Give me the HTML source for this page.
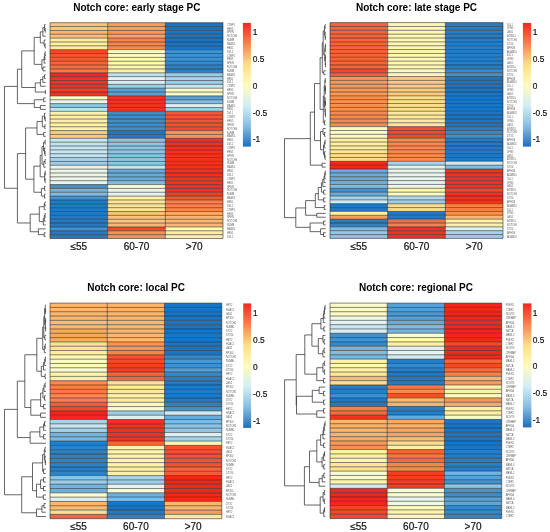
<!DOCTYPE html><html><head><meta charset="utf-8"><style>html,body{margin:0;padding:0;background:#fff}svg{display:block;will-change:transform}</style></head><body>
<svg width="550" height="532" viewBox="0 0 550 532" font-family="&quot;Liberation Sans&quot;, sans-serif">
<rect width="550" height="532" fill="#fff"/>
<defs><linearGradient id="cb" x1="0" y1="0" x2="0" y2="1"><stop offset="0.0000" stop-color="#f02820"/><stop offset="0.1667" stop-color="#fa8248"/><stop offset="0.3333" stop-color="#ffde82"/><stop offset="0.5000" stop-color="#fffcbc"/><stop offset="0.6667" stop-color="#d4eef6"/><stop offset="0.8333" stop-color="#84bee2"/><stop offset="1.0000" stop-color="#1e6ebe"/></linearGradient></defs>
<rect x="50.00" y="22.70" width="57.67" height="3.85" fill="#fcc476"/>
<rect x="107.67" y="22.70" width="57.67" height="3.85" fill="#fa9d5b"/>
<rect x="165.33" y="22.70" width="57.67" height="3.85" fill="#1976c6"/>
<rect x="50.00" y="26.55" width="57.67" height="3.85" fill="#fdcb7d"/>
<rect x="107.67" y="26.55" width="57.67" height="3.85" fill="#faa25e"/>
<rect x="165.33" y="26.55" width="57.67" height="3.85" fill="#1976c6"/>
<rect x="50.00" y="30.41" width="57.67" height="3.85" fill="#fbb76d"/>
<rect x="107.67" y="30.41" width="57.67" height="3.85" fill="#fa9857"/>
<rect x="165.33" y="30.41" width="57.67" height="3.85" fill="#1976c6"/>
<rect x="50.00" y="34.26" width="57.67" height="3.85" fill="#fcbf72"/>
<rect x="107.67" y="34.26" width="57.67" height="3.85" fill="#faa25e"/>
<rect x="165.33" y="34.26" width="57.67" height="3.85" fill="#1976c6"/>
<rect x="50.00" y="38.11" width="57.67" height="3.85" fill="#ffee9e"/>
<rect x="107.67" y="38.11" width="57.67" height="3.85" fill="#fa8448"/>
<rect x="165.33" y="38.11" width="57.67" height="3.85" fill="#1976c6"/>
<rect x="50.00" y="41.97" width="57.67" height="3.85" fill="#ffee9e"/>
<rect x="107.67" y="41.97" width="57.67" height="3.85" fill="#fa8448"/>
<rect x="165.33" y="41.97" width="57.67" height="3.85" fill="#1976c6"/>
<rect x="50.00" y="45.82" width="57.67" height="3.85" fill="#ffee9e"/>
<rect x="107.67" y="45.82" width="57.67" height="3.85" fill="#fa894c"/>
<rect x="165.33" y="45.82" width="57.67" height="3.85" fill="#1976c6"/>
<rect x="50.00" y="49.67" width="57.67" height="3.85" fill="#f5482a"/>
<rect x="107.67" y="49.67" width="57.67" height="3.85" fill="#fafac8"/>
<rect x="165.33" y="49.67" width="57.67" height="3.85" fill="#4191cd"/>
<rect x="50.00" y="53.53" width="57.67" height="3.85" fill="#f55632"/>
<rect x="107.67" y="53.53" width="57.67" height="3.85" fill="#fafac8"/>
<rect x="165.33" y="53.53" width="57.67" height="3.85" fill="#4191cd"/>
<rect x="50.00" y="57.38" width="57.67" height="3.85" fill="#f55c35"/>
<rect x="107.67" y="57.38" width="57.67" height="3.85" fill="#fffab6"/>
<rect x="165.33" y="57.38" width="57.67" height="3.85" fill="#4191cd"/>
<rect x="50.00" y="61.24" width="57.67" height="3.85" fill="#f5643a"/>
<rect x="107.67" y="61.24" width="57.67" height="3.85" fill="#fffab6"/>
<rect x="165.33" y="61.24" width="57.67" height="3.85" fill="#3789c9"/>
<rect x="50.00" y="65.09" width="57.67" height="3.85" fill="#f76f3f"/>
<rect x="107.67" y="65.09" width="57.67" height="3.85" fill="#fff6ae"/>
<rect x="165.33" y="65.09" width="57.67" height="3.85" fill="#2d82c6"/>
<rect x="50.00" y="68.94" width="57.67" height="3.85" fill="#f87943"/>
<rect x="107.67" y="68.94" width="57.67" height="3.85" fill="#fff2a6"/>
<rect x="165.33" y="68.94" width="57.67" height="3.85" fill="#2d82c6"/>
<rect x="50.00" y="72.80" width="57.67" height="3.85" fill="#f2261c"/>
<rect x="107.67" y="72.80" width="57.67" height="3.85" fill="#bde0f0"/>
<rect x="165.33" y="72.80" width="57.67" height="3.85" fill="#9bcde8"/>
<rect x="50.00" y="76.65" width="57.67" height="3.85" fill="#f33121"/>
<rect x="107.67" y="76.65" width="57.67" height="3.85" fill="#e4f2f2"/>
<rect x="165.33" y="76.65" width="57.67" height="3.85" fill="#a6d3ea"/>
<rect x="50.00" y="80.50" width="57.67" height="3.85" fill="#f33121"/>
<rect x="107.67" y="80.50" width="57.67" height="3.85" fill="#d5ecf2"/>
<rect x="165.33" y="80.50" width="57.67" height="3.85" fill="#9bcde8"/>
<rect x="50.00" y="84.36" width="57.67" height="3.85" fill="#f33121"/>
<rect x="107.67" y="84.36" width="57.67" height="3.85" fill="#9bcde8"/>
<rect x="165.33" y="84.36" width="57.67" height="3.85" fill="#c8e6f2"/>
<rect x="50.00" y="88.21" width="57.67" height="3.85" fill="#f43d25"/>
<rect x="107.67" y="88.21" width="57.67" height="3.85" fill="#58a1d5"/>
<rect x="165.33" y="88.21" width="57.67" height="3.85" fill="#fafac8"/>
<rect x="50.00" y="92.06" width="57.67" height="3.85" fill="#f33121"/>
<rect x="107.67" y="92.06" width="57.67" height="3.85" fill="#58a1d5"/>
<rect x="165.33" y="92.06" width="57.67" height="3.85" fill="#fafac8"/>
<rect x="50.00" y="95.92" width="57.67" height="3.85" fill="#fdfabd"/>
<rect x="107.67" y="95.92" width="57.67" height="3.85" fill="#f33121"/>
<rect x="165.33" y="95.92" width="57.67" height="3.85" fill="#58a1d5"/>
<rect x="50.00" y="99.77" width="57.67" height="3.85" fill="#edf6e6"/>
<rect x="107.67" y="99.77" width="57.67" height="3.85" fill="#f33121"/>
<rect x="165.33" y="99.77" width="57.67" height="3.85" fill="#80bce1"/>
<rect x="50.00" y="103.62" width="57.67" height="3.85" fill="#8ec5e5"/>
<rect x="107.67" y="103.62" width="57.67" height="3.85" fill="#f33121"/>
<rect x="165.33" y="103.62" width="57.67" height="3.85" fill="#e0f0f2"/>
<rect x="50.00" y="107.48" width="57.67" height="3.85" fill="#c1e2f0"/>
<rect x="107.67" y="107.48" width="57.67" height="3.85" fill="#f33121"/>
<rect x="165.33" y="107.48" width="57.67" height="3.85" fill="#9bcde8"/>
<rect x="50.00" y="111.33" width="57.67" height="3.85" fill="#fff2a6"/>
<rect x="107.67" y="111.33" width="57.67" height="3.85" fill="#3d8ecb"/>
<rect x="165.33" y="111.33" width="57.67" height="3.85" fill="#f55632"/>
<rect x="50.00" y="115.19" width="57.67" height="3.85" fill="#fff2a6"/>
<rect x="107.67" y="115.19" width="57.67" height="3.85" fill="#3d8ecb"/>
<rect x="165.33" y="115.19" width="57.67" height="3.85" fill="#f55632"/>
<rect x="50.00" y="119.04" width="57.67" height="3.85" fill="#fff0a3"/>
<rect x="107.67" y="119.04" width="57.67" height="3.85" fill="#3d8ecb"/>
<rect x="165.33" y="119.04" width="57.67" height="3.85" fill="#f55632"/>
<rect x="50.00" y="122.89" width="57.67" height="3.85" fill="#fff2a6"/>
<rect x="107.67" y="122.89" width="57.67" height="3.85" fill="#3d8ecb"/>
<rect x="165.33" y="122.89" width="57.67" height="3.85" fill="#f5502f"/>
<rect x="50.00" y="126.75" width="57.67" height="3.85" fill="#fff2a6"/>
<rect x="107.67" y="126.75" width="57.67" height="3.85" fill="#3d8ecb"/>
<rect x="165.33" y="126.75" width="57.67" height="3.85" fill="#f5482a"/>
<rect x="50.00" y="130.60" width="57.67" height="3.85" fill="#fdcb7d"/>
<rect x="107.67" y="130.60" width="57.67" height="3.85" fill="#207ac6"/>
<rect x="165.33" y="130.60" width="57.67" height="3.85" fill="#fa9655"/>
<rect x="50.00" y="134.45" width="57.67" height="3.85" fill="#fdcb7d"/>
<rect x="107.67" y="134.45" width="57.67" height="3.85" fill="#207ac6"/>
<rect x="165.33" y="134.45" width="57.67" height="3.85" fill="#fa9655"/>
<rect x="50.00" y="138.31" width="57.67" height="3.85" fill="#c8e6f2"/>
<rect x="107.67" y="138.31" width="57.67" height="3.85" fill="#8ec5e5"/>
<rect x="165.33" y="138.31" width="57.67" height="3.85" fill="#f33121"/>
<rect x="50.00" y="142.16" width="57.67" height="3.85" fill="#c1e2f0"/>
<rect x="107.67" y="142.16" width="57.67" height="3.85" fill="#8ec5e5"/>
<rect x="165.33" y="142.16" width="57.67" height="3.85" fill="#f33121"/>
<rect x="50.00" y="146.01" width="57.67" height="3.85" fill="#c8e6f2"/>
<rect x="107.67" y="146.01" width="57.67" height="3.85" fill="#8ec5e5"/>
<rect x="165.33" y="146.01" width="57.67" height="3.85" fill="#f33121"/>
<rect x="50.00" y="149.87" width="57.67" height="3.85" fill="#c8e6f2"/>
<rect x="107.67" y="149.87" width="57.67" height="3.85" fill="#8ec5e5"/>
<rect x="165.33" y="149.87" width="57.67" height="3.85" fill="#f33121"/>
<rect x="50.00" y="153.72" width="57.67" height="3.85" fill="#c1e2f0"/>
<rect x="107.67" y="153.72" width="57.67" height="3.85" fill="#88c1e3"/>
<rect x="165.33" y="153.72" width="57.67" height="3.85" fill="#f33121"/>
<rect x="50.00" y="157.57" width="57.67" height="3.85" fill="#a6d3ea"/>
<rect x="107.67" y="157.57" width="57.67" height="3.85" fill="#8ec5e5"/>
<rect x="165.33" y="157.57" width="57.67" height="3.85" fill="#f33121"/>
<rect x="50.00" y="161.43" width="57.67" height="3.85" fill="#9bcde8"/>
<rect x="107.67" y="161.43" width="57.67" height="3.85" fill="#8ec5e5"/>
<rect x="165.33" y="161.43" width="57.67" height="3.85" fill="#f33121"/>
<rect x="50.00" y="165.28" width="57.67" height="3.85" fill="#e8f4ed"/>
<rect x="107.67" y="165.28" width="57.67" height="3.85" fill="#c8e6f2"/>
<rect x="165.33" y="165.28" width="57.67" height="3.85" fill="#f33121"/>
<rect x="50.00" y="169.14" width="57.67" height="3.85" fill="#edf6e6"/>
<rect x="107.67" y="169.14" width="57.67" height="3.85" fill="#66abd9"/>
<rect x="165.33" y="169.14" width="57.67" height="3.85" fill="#f33121"/>
<rect x="50.00" y="172.99" width="57.67" height="3.85" fill="#edf6e6"/>
<rect x="107.67" y="172.99" width="57.67" height="3.85" fill="#66abd9"/>
<rect x="165.33" y="172.99" width="57.67" height="3.85" fill="#f33121"/>
<rect x="50.00" y="176.84" width="57.67" height="3.85" fill="#edf6e6"/>
<rect x="107.67" y="176.84" width="57.67" height="3.85" fill="#66abd9"/>
<rect x="165.33" y="176.84" width="57.67" height="3.85" fill="#f33121"/>
<rect x="50.00" y="180.70" width="57.67" height="3.85" fill="#e8f4ed"/>
<rect x="107.67" y="180.70" width="57.67" height="3.85" fill="#80bce1"/>
<rect x="165.33" y="180.70" width="57.67" height="3.85" fill="#f33121"/>
<rect x="50.00" y="184.55" width="57.67" height="3.85" fill="#4191cd"/>
<rect x="107.67" y="184.55" width="57.67" height="3.85" fill="#f6fbda"/>
<rect x="165.33" y="184.55" width="57.67" height="3.85" fill="#f33121"/>
<rect x="50.00" y="188.40" width="57.67" height="3.85" fill="#73b4de"/>
<rect x="107.67" y="188.40" width="57.67" height="3.85" fill="#edf6e6"/>
<rect x="165.33" y="188.40" width="57.67" height="3.85" fill="#f33121"/>
<rect x="50.00" y="192.26" width="57.67" height="3.85" fill="#80bce1"/>
<rect x="107.67" y="192.26" width="57.67" height="3.85" fill="#e4f2f2"/>
<rect x="165.33" y="192.26" width="57.67" height="3.85" fill="#f43d25"/>
<rect x="50.00" y="196.11" width="57.67" height="3.85" fill="#4191cd"/>
<rect x="107.67" y="196.11" width="57.67" height="3.85" fill="#fff2a6"/>
<rect x="165.33" y="196.11" width="57.67" height="3.85" fill="#f55632"/>
<rect x="50.00" y="199.96" width="57.67" height="3.85" fill="#207ac6"/>
<rect x="107.67" y="199.96" width="57.67" height="3.85" fill="#ffe596"/>
<rect x="165.33" y="199.96" width="57.67" height="3.85" fill="#fa8448"/>
<rect x="50.00" y="203.82" width="57.67" height="3.85" fill="#207ac6"/>
<rect x="107.67" y="203.82" width="57.67" height="3.85" fill="#ffe596"/>
<rect x="165.33" y="203.82" width="57.67" height="3.85" fill="#fa8448"/>
<rect x="50.00" y="207.67" width="57.67" height="3.85" fill="#207ac6"/>
<rect x="107.67" y="207.67" width="57.67" height="3.85" fill="#ffe596"/>
<rect x="165.33" y="207.67" width="57.67" height="3.85" fill="#fa8448"/>
<rect x="50.00" y="211.53" width="57.67" height="3.85" fill="#207ac6"/>
<rect x="107.67" y="211.53" width="57.67" height="3.85" fill="#fcc476"/>
<rect x="165.33" y="211.53" width="57.67" height="3.85" fill="#faaa64"/>
<rect x="50.00" y="215.38" width="57.67" height="3.85" fill="#207ac6"/>
<rect x="107.67" y="215.38" width="57.67" height="3.85" fill="#fcc476"/>
<rect x="165.33" y="215.38" width="57.67" height="3.85" fill="#fbb76d"/>
<rect x="50.00" y="219.23" width="57.67" height="3.85" fill="#207ac6"/>
<rect x="107.67" y="219.23" width="57.67" height="3.85" fill="#fcc476"/>
<rect x="165.33" y="219.23" width="57.67" height="3.85" fill="#fbb76d"/>
<rect x="50.00" y="223.09" width="57.67" height="3.85" fill="#207ac6"/>
<rect x="107.67" y="223.09" width="57.67" height="3.85" fill="#fbb76d"/>
<rect x="165.33" y="223.09" width="57.67" height="3.85" fill="#fbb76d"/>
<rect x="50.00" y="226.94" width="57.67" height="3.85" fill="#4191cd"/>
<rect x="107.67" y="226.94" width="57.67" height="3.85" fill="#f5482a"/>
<rect x="165.33" y="226.94" width="57.67" height="3.85" fill="#fffab6"/>
<rect x="50.00" y="230.79" width="57.67" height="3.85" fill="#207ac6"/>
<rect x="107.67" y="230.79" width="57.67" height="3.85" fill="#fa9151"/>
<rect x="165.33" y="230.79" width="57.67" height="3.85" fill="#ffee9e"/>
<rect x="50.00" y="234.65" width="57.67" height="3.85" fill="#207ac6"/>
<rect x="107.67" y="234.65" width="57.67" height="3.85" fill="#fa9151"/>
<rect x="165.33" y="234.65" width="57.67" height="3.85" fill="#ffee9e"/>
<path d="M50.00 22.70H223.00M50.00 26.55H223.00M50.00 30.41H223.00M50.00 34.26H223.00M50.00 38.11H223.00M50.00 41.97H223.00M50.00 45.82H223.00M50.00 49.67H223.00M50.00 53.53H223.00M50.00 57.38H223.00M50.00 61.24H223.00M50.00 65.09H223.00M50.00 68.94H223.00M50.00 72.80H223.00M50.00 76.65H223.00M50.00 80.50H223.00M50.00 84.36H223.00M50.00 88.21H223.00M50.00 92.06H223.00M50.00 95.92H223.00M50.00 99.77H223.00M50.00 103.62H223.00M50.00 107.48H223.00M50.00 111.33H223.00M50.00 115.19H223.00M50.00 119.04H223.00M50.00 122.89H223.00M50.00 126.75H223.00M50.00 130.60H223.00M50.00 134.45H223.00M50.00 138.31H223.00M50.00 142.16H223.00M50.00 146.01H223.00M50.00 149.87H223.00M50.00 153.72H223.00M50.00 157.57H223.00M50.00 161.43H223.00M50.00 165.28H223.00M50.00 169.14H223.00M50.00 172.99H223.00M50.00 176.84H223.00M50.00 180.70H223.00M50.00 184.55H223.00M50.00 188.40H223.00M50.00 192.26H223.00M50.00 196.11H223.00M50.00 199.96H223.00M50.00 203.82H223.00M50.00 207.67H223.00M50.00 211.53H223.00M50.00 215.38H223.00M50.00 219.23H223.00M50.00 223.09H223.00M50.00 226.94H223.00M50.00 230.79H223.00M50.00 234.65H223.00M50.00 238.50H223.00M50.00 22.70V238.50M107.67 22.70V238.50M165.33 22.70V238.50M223.00 22.70V238.50" stroke="#1e1e1e" stroke-opacity="0.6" stroke-width="0.90" fill="none"/>
<text transform="translate(136.8 10.5)" font-size="10" font-weight="bold" text-anchor="middle" fill="#000">Notch core: early stage PC</text>
<text transform="translate(78.8 249.7)" font-size="10" text-anchor="middle" fill="#111" stroke="#111" stroke-width="0.2">&#8804;55</text>
<text transform="translate(136.5 249.7)" font-size="10" text-anchor="middle" fill="#111" stroke="#111" stroke-width="0.2">60-70</text>
<text transform="translate(194.2 249.7)" font-size="10" text-anchor="middle" fill="#111" stroke="#111" stroke-width="0.2">&gt;70</text>
<g font-size="10" fill="#5e5e5e"><text transform="translate(226.9 25.68) scale(0.25 0.27)">CTBP1</text><text transform="translate(226.9 29.53) scale(0.25 0.27)">HES5</text><text transform="translate(226.9 33.38) scale(0.25 0.27)">SPEN</text><text transform="translate(226.9 37.24) scale(0.25 0.27)">NOTCH4</text><text transform="translate(226.9 41.09) scale(0.25 0.27)">NUMB</text><text transform="translate(226.9 44.94) scale(0.25 0.27)">MAML1</text><text transform="translate(226.9 48.80) scale(0.25 0.27)">HES1</text><text transform="translate(226.9 52.65) scale(0.25 0.27)">DVL1</text><text transform="translate(226.9 56.51) scale(0.25 0.27)">CTBP1</text><text transform="translate(226.9 60.36) scale(0.25 0.27)">HES5</text><text transform="translate(226.9 64.21) scale(0.25 0.27)">SPEN</text><text transform="translate(226.9 68.07) scale(0.25 0.27)">NOTCH4</text><text transform="translate(226.9 71.92) scale(0.25 0.27)">NUMB</text><text transform="translate(226.9 75.77) scale(0.25 0.27)">MAML1</text><text transform="translate(226.9 79.63) scale(0.25 0.27)">HES1</text><text transform="translate(226.9 83.48) scale(0.25 0.27)">DVL1</text><text transform="translate(226.9 87.33) scale(0.25 0.27)">CTBP1</text><text transform="translate(226.9 91.19) scale(0.25 0.27)">HES5</text><text transform="translate(226.9 95.04) scale(0.25 0.27)">SPEN</text><text transform="translate(226.9 98.89) scale(0.25 0.27)">NOTCH4</text><text transform="translate(226.9 102.75) scale(0.25 0.27)">NUMB</text><text transform="translate(226.9 106.60) scale(0.25 0.27)">MAML1</text><text transform="translate(226.9 110.46) scale(0.25 0.27)">HES1</text><text transform="translate(226.9 114.31) scale(0.25 0.27)">DVL1</text><text transform="translate(226.9 118.16) scale(0.25 0.27)">CTBP1</text><text transform="translate(226.9 122.02) scale(0.25 0.27)">HES5</text><text transform="translate(226.9 125.87) scale(0.25 0.27)">SPEN</text><text transform="translate(226.9 129.72) scale(0.25 0.27)">NOTCH4</text><text transform="translate(226.9 133.58) scale(0.25 0.27)">NUMB</text><text transform="translate(226.9 137.43) scale(0.25 0.27)">MAML1</text><text transform="translate(226.9 141.28) scale(0.25 0.27)">HES1</text><text transform="translate(226.9 145.14) scale(0.25 0.27)">DVL1</text><text transform="translate(226.9 148.99) scale(0.25 0.27)">CTBP1</text><text transform="translate(226.9 152.84) scale(0.25 0.27)">HES5</text><text transform="translate(226.9 156.70) scale(0.25 0.27)">SPEN</text><text transform="translate(226.9 160.55) scale(0.25 0.27)">NOTCH4</text><text transform="translate(226.9 164.41) scale(0.25 0.27)">NUMB</text><text transform="translate(226.9 168.26) scale(0.25 0.27)">MAML1</text><text transform="translate(226.9 172.11) scale(0.25 0.27)">HES1</text><text transform="translate(226.9 175.97) scale(0.25 0.27)">DVL1</text><text transform="translate(226.9 179.82) scale(0.25 0.27)">CTBP1</text><text transform="translate(226.9 183.67) scale(0.25 0.27)">HES5</text><text transform="translate(226.9 187.53) scale(0.25 0.27)">SPEN</text><text transform="translate(226.9 191.38) scale(0.25 0.27)">NOTCH4</text><text transform="translate(226.9 195.23) scale(0.25 0.27)">NUMB</text><text transform="translate(226.9 199.09) scale(0.25 0.27)">MAML1</text><text transform="translate(226.9 202.94) scale(0.25 0.27)">HES1</text><text transform="translate(226.9 206.79) scale(0.25 0.27)">DVL1</text><text transform="translate(226.9 210.65) scale(0.25 0.27)">CTBP1</text><text transform="translate(226.9 214.50) scale(0.25 0.27)">HES5</text><text transform="translate(226.9 218.36) scale(0.25 0.27)">SPEN</text><text transform="translate(226.9 222.21) scale(0.25 0.27)">NOTCH4</text><text transform="translate(226.9 226.06) scale(0.25 0.27)">NUMB</text><text transform="translate(226.9 229.92) scale(0.25 0.27)">MAML1</text><text transform="translate(226.9 233.77) scale(0.25 0.27)">HES1</text><text transform="translate(226.9 237.62) scale(0.25 0.27)">DVL1</text></g>
<rect x="242.9" y="22.9" width="8.0" height="123.7" fill="url(#cb)"/>
<text transform="translate(252.7 35.2) scale(0.95 1)" font-size="8.8" fill="#111" stroke="#111" stroke-width="0.2">1</text>
<text transform="translate(252.7 62.0) scale(0.95 1)" font-size="8.8" fill="#111" stroke="#111" stroke-width="0.2">0.5</text>
<text transform="translate(252.7 88.8) scale(0.95 1)" font-size="8.8" fill="#111" stroke="#111" stroke-width="0.2">0</text>
<text transform="translate(252.7 115.5) scale(0.95 1)" font-size="8.8" fill="#111" stroke="#111" stroke-width="0.2">-0.5</text>
<text transform="translate(252.7 142.3) scale(0.95 1)" font-size="8.8" fill="#111" stroke="#111" stroke-width="0.2">-1</text>
<path d="M4.50 86.40V188.27M4.50 86.40H17.40M4.50 188.27H17.40M17.40 69.18V103.62M17.40 69.18H21.70M17.40 103.62H34.30M21.70 50.88V87.49M21.70 50.88H34.20M21.70 87.49H35.30M34.20 37.39V64.37M34.20 37.39H40.30M34.20 64.37H41.90M40.30 31.85V42.93M40.30 31.85H42.90M40.30 42.93H44.10M42.90 27.52V36.19M42.90 27.52H44.50M42.90 36.19H45.70M44.50 24.63V30.41M44.50 24.63H45.70M44.50 30.41H45.20M45.20 28.48V32.33M45.20 28.48H45.70M45.20 32.33H45.70M44.10 40.04V45.82M44.10 40.04H45.70M44.10 45.82H45.00M45.00 43.89V47.75M45.00 43.89H45.70M45.00 47.75H45.70M41.90 59.79V68.94M41.90 59.79H44.20M41.90 68.94H43.00M44.20 56.42V63.16M44.20 56.42H44.80M44.20 63.16H45.70M44.80 53.53V59.31M44.80 53.53H45.00M44.80 59.31H45.70M45.00 51.60V55.46M45.00 51.60H45.70M45.00 55.46H45.70M43.00 67.02V70.87M43.00 67.02H45.70M43.00 70.87H45.70M35.30 82.91V92.06M35.30 82.91H40.40M35.30 92.06H45.40M40.40 79.54V86.28M40.40 79.54H42.80M40.40 86.28H45.70M42.80 76.65V82.43M42.80 76.65H44.50M42.80 82.43H45.70M44.50 74.72V78.58M44.50 74.72H45.70M44.50 78.58H45.70M45.40 90.14V93.99M45.40 90.14H45.70M45.40 93.99H45.70M34.30 99.77V107.48M34.30 99.77H43.70M34.30 107.48H40.40M43.70 97.84V101.70M43.70 97.84H45.70M43.70 101.70H45.70M40.40 105.55V109.41M40.40 105.55H45.70M40.40 109.41H45.70M17.40 153.57V222.97M17.40 153.57H25.60M17.40 222.97H30.20M25.60 127.95V179.19M25.60 127.95H37.00M25.60 179.19H33.90M37.00 121.45V134.45M37.00 121.45H42.30M37.00 134.45H43.70M42.30 116.15V126.75M42.30 116.15H44.50M42.30 126.75H44.80M44.50 113.26V119.04M44.50 113.26H45.70M44.50 119.04H45.20M45.20 117.11V120.97M45.20 117.11H45.70M45.20 120.97H45.70M44.80 124.82V128.67M44.80 124.82H45.70M44.80 128.67H45.70M43.70 132.53V136.38M43.70 132.53H45.70M43.70 136.38H45.70M33.90 166.13V192.26M33.90 166.13H40.20M33.90 192.26H41.40M40.20 155.41V176.84M40.20 155.41H42.00M40.20 176.84H44.70M42.00 146.50V164.32M42.00 146.50H43.50M42.00 164.32H43.80M43.50 142.16V150.83M43.50 142.16H45.00M43.50 150.83H44.50M45.00 140.23V144.09M45.00 140.23H45.70M45.00 144.09H45.70M44.50 147.94V153.72M44.50 147.94H45.70M44.50 153.72H45.00M45.00 151.79V155.65M45.00 151.79H45.70M45.00 155.65H45.70M43.80 161.43V167.21M43.80 161.43H45.00M43.80 167.21H45.70M45.00 159.50V163.36M45.00 159.50H45.70M45.00 163.36H45.70M44.70 172.99V180.70M44.70 172.99H45.20M44.70 180.70H45.00M45.20 171.06V174.92M45.20 171.06H45.70M45.20 174.92H45.70M45.00 178.77V182.62M45.00 178.77H45.70M45.00 182.62H45.70M41.40 188.40V196.11M41.40 188.40H44.50M41.40 196.11H44.50M44.50 186.48V190.33M44.50 186.48H45.70M44.50 190.33H45.70M44.50 194.18V198.04M44.50 194.18H45.70M44.50 198.04H45.70M30.20 214.17V231.76M30.20 214.17H39.30M30.20 231.76H38.40M39.30 206.71V221.64M39.30 206.71H44.20M39.30 221.64H43.30M44.20 203.82V209.60M44.20 203.82H44.90M44.20 209.60H45.70M44.90 201.89V205.74M44.90 201.89H45.70M44.90 205.74H45.70M43.30 218.27V225.01M43.30 218.27H44.30M43.30 225.01H45.70M44.30 215.38V221.16M44.30 215.38H45.00M44.30 221.16H45.70M45.00 213.45V217.31M45.00 213.45H45.70M45.00 217.31H45.70M38.40 228.87V234.65M38.40 228.87H45.70M38.40 234.65H44.20M44.20 232.72V236.57M44.20 232.72H45.70M44.20 236.57H45.70" stroke="#333" stroke-width="0.75" fill="none"/>
<rect x="330.00" y="22.60" width="57.67" height="3.85" fill="#f5643a"/>
<rect x="387.67" y="22.60" width="57.67" height="3.85" fill="#fff8b3"/>
<rect x="445.33" y="22.60" width="57.67" height="3.85" fill="#267ec6"/>
<rect x="330.00" y="26.45" width="57.67" height="3.85" fill="#f5643a"/>
<rect x="387.67" y="26.45" width="57.67" height="3.85" fill="#fff8b3"/>
<rect x="445.33" y="26.45" width="57.67" height="3.85" fill="#267ec6"/>
<rect x="330.00" y="30.31" width="57.67" height="3.85" fill="#f5643a"/>
<rect x="387.67" y="30.31" width="57.67" height="3.85" fill="#fff8b3"/>
<rect x="445.33" y="30.31" width="57.67" height="3.85" fill="#267ec6"/>
<rect x="330.00" y="34.16" width="57.67" height="3.85" fill="#f5643a"/>
<rect x="387.67" y="34.16" width="57.67" height="3.85" fill="#fff8b3"/>
<rect x="445.33" y="34.16" width="57.67" height="3.85" fill="#267ec6"/>
<rect x="330.00" y="38.01" width="57.67" height="3.85" fill="#f5643a"/>
<rect x="387.67" y="38.01" width="57.67" height="3.85" fill="#fff8b3"/>
<rect x="445.33" y="38.01" width="57.67" height="3.85" fill="#267ec6"/>
<rect x="330.00" y="41.87" width="57.67" height="3.85" fill="#f5643a"/>
<rect x="387.67" y="41.87" width="57.67" height="3.85" fill="#fff8b3"/>
<rect x="445.33" y="41.87" width="57.67" height="3.85" fill="#267ec6"/>
<rect x="330.00" y="45.72" width="57.67" height="3.85" fill="#f5643a"/>
<rect x="387.67" y="45.72" width="57.67" height="3.85" fill="#fff8b3"/>
<rect x="445.33" y="45.72" width="57.67" height="3.85" fill="#267ec6"/>
<rect x="330.00" y="49.58" width="57.67" height="3.85" fill="#f5643a"/>
<rect x="387.67" y="49.58" width="57.67" height="3.85" fill="#fff8b3"/>
<rect x="445.33" y="49.58" width="57.67" height="3.85" fill="#267ec6"/>
<rect x="330.00" y="53.43" width="57.67" height="3.85" fill="#f5643a"/>
<rect x="387.67" y="53.43" width="57.67" height="3.85" fill="#fff8b3"/>
<rect x="445.33" y="53.43" width="57.67" height="3.85" fill="#267ec6"/>
<rect x="330.00" y="57.28" width="57.67" height="3.85" fill="#f5643a"/>
<rect x="387.67" y="57.28" width="57.67" height="3.85" fill="#fff8b3"/>
<rect x="445.33" y="57.28" width="57.67" height="3.85" fill="#267ec6"/>
<rect x="330.00" y="61.14" width="57.67" height="3.85" fill="#f5643a"/>
<rect x="387.67" y="61.14" width="57.67" height="3.85" fill="#fff8b3"/>
<rect x="445.33" y="61.14" width="57.67" height="3.85" fill="#267ec6"/>
<rect x="330.00" y="64.99" width="57.67" height="3.85" fill="#f5643a"/>
<rect x="387.67" y="64.99" width="57.67" height="3.85" fill="#fff8b3"/>
<rect x="445.33" y="64.99" width="57.67" height="3.85" fill="#267ec6"/>
<rect x="330.00" y="68.84" width="57.67" height="3.85" fill="#f5482a"/>
<rect x="387.67" y="68.84" width="57.67" height="3.85" fill="#fdfabd"/>
<rect x="445.33" y="68.84" width="57.67" height="3.85" fill="#3789c9"/>
<rect x="330.00" y="72.70" width="57.67" height="3.85" fill="#f55c35"/>
<rect x="387.67" y="72.70" width="57.67" height="3.85" fill="#fffab6"/>
<rect x="445.33" y="72.70" width="57.67" height="3.85" fill="#4191cd"/>
<rect x="330.00" y="76.55" width="57.67" height="3.85" fill="#fa9857"/>
<rect x="387.67" y="76.55" width="57.67" height="3.85" fill="#fdcb7d"/>
<rect x="445.33" y="76.55" width="57.67" height="3.85" fill="#1976c6"/>
<rect x="330.00" y="80.40" width="57.67" height="3.85" fill="#fa9857"/>
<rect x="387.67" y="80.40" width="57.67" height="3.85" fill="#fdcb7d"/>
<rect x="445.33" y="80.40" width="57.67" height="3.85" fill="#1976c6"/>
<rect x="330.00" y="84.26" width="57.67" height="3.85" fill="#fa9857"/>
<rect x="387.67" y="84.26" width="57.67" height="3.85" fill="#fdcb7d"/>
<rect x="445.33" y="84.26" width="57.67" height="3.85" fill="#1976c6"/>
<rect x="330.00" y="88.11" width="57.67" height="3.85" fill="#fa9857"/>
<rect x="387.67" y="88.11" width="57.67" height="3.85" fill="#fdcb7d"/>
<rect x="445.33" y="88.11" width="57.67" height="3.85" fill="#1976c6"/>
<rect x="330.00" y="91.96" width="57.67" height="3.85" fill="#fa9857"/>
<rect x="387.67" y="91.96" width="57.67" height="3.85" fill="#fdcb7d"/>
<rect x="445.33" y="91.96" width="57.67" height="3.85" fill="#1976c6"/>
<rect x="330.00" y="95.82" width="57.67" height="3.85" fill="#fa9151"/>
<rect x="387.67" y="95.82" width="57.67" height="3.85" fill="#ffde90"/>
<rect x="445.33" y="95.82" width="57.67" height="3.85" fill="#1976c6"/>
<rect x="330.00" y="99.67" width="57.67" height="3.85" fill="#fa9151"/>
<rect x="387.67" y="99.67" width="57.67" height="3.85" fill="#ffde90"/>
<rect x="445.33" y="99.67" width="57.67" height="3.85" fill="#1976c6"/>
<rect x="330.00" y="103.53" width="57.67" height="3.85" fill="#fa9151"/>
<rect x="387.67" y="103.53" width="57.67" height="3.85" fill="#ffde90"/>
<rect x="445.33" y="103.53" width="57.67" height="3.85" fill="#1976c6"/>
<rect x="330.00" y="107.38" width="57.67" height="3.85" fill="#fa9151"/>
<rect x="387.67" y="107.38" width="57.67" height="3.85" fill="#ffde90"/>
<rect x="445.33" y="107.38" width="57.67" height="3.85" fill="#1976c6"/>
<rect x="330.00" y="111.23" width="57.67" height="3.85" fill="#fa894c"/>
<rect x="387.67" y="111.23" width="57.67" height="3.85" fill="#ffea9b"/>
<rect x="445.33" y="111.23" width="57.67" height="3.85" fill="#1976c6"/>
<rect x="330.00" y="115.09" width="57.67" height="3.85" fill="#fa894c"/>
<rect x="387.67" y="115.09" width="57.67" height="3.85" fill="#ffea9b"/>
<rect x="445.33" y="115.09" width="57.67" height="3.85" fill="#1976c6"/>
<rect x="330.00" y="118.94" width="57.67" height="3.85" fill="#fa894c"/>
<rect x="387.67" y="118.94" width="57.67" height="3.85" fill="#ffea9b"/>
<rect x="445.33" y="118.94" width="57.67" height="3.85" fill="#1976c6"/>
<rect x="330.00" y="122.79" width="57.67" height="3.85" fill="#fa894c"/>
<rect x="387.67" y="122.79" width="57.67" height="3.85" fill="#ffea9b"/>
<rect x="445.33" y="122.79" width="57.67" height="3.85" fill="#1976c6"/>
<rect x="330.00" y="126.65" width="57.67" height="3.85" fill="#fafac8"/>
<rect x="387.67" y="126.65" width="57.67" height="3.85" fill="#f5502f"/>
<rect x="445.33" y="126.65" width="57.67" height="3.85" fill="#267ec6"/>
<rect x="330.00" y="130.50" width="57.67" height="3.85" fill="#f9fbcf"/>
<rect x="387.67" y="130.50" width="57.67" height="3.85" fill="#f5482a"/>
<rect x="445.33" y="130.50" width="57.67" height="3.85" fill="#3789c9"/>
<rect x="330.00" y="134.35" width="57.67" height="3.85" fill="#fafac8"/>
<rect x="387.67" y="134.35" width="57.67" height="3.85" fill="#f5482a"/>
<rect x="445.33" y="134.35" width="57.67" height="3.85" fill="#4191cd"/>
<rect x="330.00" y="138.21" width="57.67" height="3.85" fill="#ffee9e"/>
<rect x="387.67" y="138.21" width="57.67" height="3.85" fill="#fa894c"/>
<rect x="445.33" y="138.21" width="57.67" height="3.85" fill="#207ac6"/>
<rect x="330.00" y="142.06" width="57.67" height="3.85" fill="#ffefa0"/>
<rect x="387.67" y="142.06" width="57.67" height="3.85" fill="#fa894c"/>
<rect x="445.33" y="142.06" width="57.67" height="3.85" fill="#207ac6"/>
<rect x="330.00" y="145.91" width="57.67" height="3.85" fill="#ffec9c"/>
<rect x="387.67" y="145.91" width="57.67" height="3.85" fill="#fa894c"/>
<rect x="445.33" y="145.91" width="57.67" height="3.85" fill="#207ac6"/>
<rect x="330.00" y="149.77" width="57.67" height="3.85" fill="#ffe596"/>
<rect x="387.67" y="149.77" width="57.67" height="3.85" fill="#fa894c"/>
<rect x="445.33" y="149.77" width="57.67" height="3.85" fill="#207ac6"/>
<rect x="330.00" y="153.62" width="57.67" height="3.85" fill="#ffda8c"/>
<rect x="387.67" y="153.62" width="57.67" height="3.85" fill="#fa894c"/>
<rect x="445.33" y="153.62" width="57.67" height="3.85" fill="#207ac6"/>
<rect x="330.00" y="157.47" width="57.67" height="3.85" fill="#ffda8c"/>
<rect x="387.67" y="157.47" width="57.67" height="3.85" fill="#fa894c"/>
<rect x="445.33" y="157.47" width="57.67" height="3.85" fill="#207ac6"/>
<rect x="330.00" y="161.33" width="57.67" height="3.85" fill="#f2261c"/>
<rect x="387.67" y="161.33" width="57.67" height="3.85" fill="#a6d3ea"/>
<rect x="445.33" y="161.33" width="57.67" height="3.85" fill="#d1eaf2"/>
<rect x="330.00" y="165.18" width="57.67" height="3.85" fill="#f2261c"/>
<rect x="387.67" y="165.18" width="57.67" height="3.85" fill="#e4f2f2"/>
<rect x="445.33" y="165.18" width="57.67" height="3.85" fill="#80bce1"/>
<rect x="330.00" y="169.04" width="57.67" height="3.85" fill="#66abd9"/>
<rect x="387.67" y="169.04" width="57.67" height="3.85" fill="#e8f4ed"/>
<rect x="445.33" y="169.04" width="57.67" height="3.85" fill="#f33121"/>
<rect x="330.00" y="172.89" width="57.67" height="3.85" fill="#66abd9"/>
<rect x="387.67" y="172.89" width="57.67" height="3.85" fill="#e8f4ed"/>
<rect x="445.33" y="172.89" width="57.67" height="3.85" fill="#f33121"/>
<rect x="330.00" y="176.74" width="57.67" height="3.85" fill="#66abd9"/>
<rect x="387.67" y="176.74" width="57.67" height="3.85" fill="#e8f4ed"/>
<rect x="445.33" y="176.74" width="57.67" height="3.85" fill="#f33121"/>
<rect x="330.00" y="180.60" width="57.67" height="3.85" fill="#6eb0dc"/>
<rect x="387.67" y="180.60" width="57.67" height="3.85" fill="#e4f2f2"/>
<rect x="445.33" y="180.60" width="57.67" height="3.85" fill="#f33121"/>
<rect x="330.00" y="184.45" width="57.67" height="3.85" fill="#80bce1"/>
<rect x="387.67" y="184.45" width="57.67" height="3.85" fill="#edf6e6"/>
<rect x="445.33" y="184.45" width="57.67" height="3.85" fill="#f33121"/>
<rect x="330.00" y="188.30" width="57.67" height="3.85" fill="#4191cd"/>
<rect x="387.67" y="188.30" width="57.67" height="3.85" fill="#fff6ae"/>
<rect x="445.33" y="188.30" width="57.67" height="3.85" fill="#f5482a"/>
<rect x="330.00" y="192.16" width="57.67" height="3.85" fill="#66abd9"/>
<rect x="387.67" y="192.16" width="57.67" height="3.85" fill="#fdfabd"/>
<rect x="445.33" y="192.16" width="57.67" height="3.85" fill="#f33121"/>
<rect x="330.00" y="196.01" width="57.67" height="3.85" fill="#a6d3ea"/>
<rect x="387.67" y="196.01" width="57.67" height="3.85" fill="#b2daed"/>
<rect x="445.33" y="196.01" width="57.67" height="3.85" fill="#f33121"/>
<rect x="330.00" y="199.86" width="57.67" height="3.85" fill="#d1eaf2"/>
<rect x="387.67" y="199.86" width="57.67" height="3.85" fill="#9bcde8"/>
<rect x="445.33" y="199.86" width="57.67" height="3.85" fill="#f33121"/>
<rect x="330.00" y="203.72" width="57.67" height="3.85" fill="#207ac6"/>
<rect x="387.67" y="203.72" width="57.67" height="3.85" fill="#ffdc8e"/>
<rect x="445.33" y="203.72" width="57.67" height="3.85" fill="#f98046"/>
<rect x="330.00" y="207.57" width="57.67" height="3.85" fill="#207ac6"/>
<rect x="387.67" y="207.57" width="57.67" height="3.85" fill="#ffdc8e"/>
<rect x="445.33" y="207.57" width="57.67" height="3.85" fill="#f98046"/>
<rect x="330.00" y="211.43" width="57.67" height="3.85" fill="#fff2a6"/>
<rect x="387.67" y="211.43" width="57.67" height="3.85" fill="#207ac6"/>
<rect x="445.33" y="211.43" width="57.67" height="3.85" fill="#fa9151"/>
<rect x="330.00" y="215.28" width="57.67" height="3.85" fill="#fa9d5b"/>
<rect x="387.67" y="215.28" width="57.67" height="3.85" fill="#207ac6"/>
<rect x="445.33" y="215.28" width="57.67" height="3.85" fill="#fbbc71"/>
<rect x="330.00" y="219.13" width="57.67" height="3.85" fill="#267ec6"/>
<rect x="387.67" y="219.13" width="57.67" height="3.85" fill="#f76f3f"/>
<rect x="445.33" y="219.13" width="57.67" height="3.85" fill="#fff2a6"/>
<rect x="330.00" y="222.99" width="57.67" height="3.85" fill="#2d82c6"/>
<rect x="387.67" y="222.99" width="57.67" height="3.85" fill="#f98046"/>
<rect x="445.33" y="222.99" width="57.67" height="3.85" fill="#fff0a3"/>
<rect x="330.00" y="226.84" width="57.67" height="3.85" fill="#80bce1"/>
<rect x="387.67" y="226.84" width="57.67" height="3.85" fill="#f33121"/>
<rect x="445.33" y="226.84" width="57.67" height="3.85" fill="#dbeef2"/>
<rect x="330.00" y="230.69" width="57.67" height="3.85" fill="#93c8e6"/>
<rect x="387.67" y="230.69" width="57.67" height="3.85" fill="#f33121"/>
<rect x="445.33" y="230.69" width="57.67" height="3.85" fill="#a6d3ea"/>
<rect x="330.00" y="234.55" width="57.67" height="3.85" fill="#8ec5e5"/>
<rect x="387.67" y="234.55" width="57.67" height="3.85" fill="#f33121"/>
<rect x="445.33" y="234.55" width="57.67" height="3.85" fill="#9bcde8"/>
<path d="M330.00 22.60H503.00M330.00 26.45H503.00M330.00 30.31H503.00M330.00 34.16H503.00M330.00 38.01H503.00M330.00 41.87H503.00M330.00 45.72H503.00M330.00 49.58H503.00M330.00 53.43H503.00M330.00 57.28H503.00M330.00 61.14H503.00M330.00 64.99H503.00M330.00 68.84H503.00M330.00 72.70H503.00M330.00 76.55H503.00M330.00 80.40H503.00M330.00 84.26H503.00M330.00 88.11H503.00M330.00 91.96H503.00M330.00 95.82H503.00M330.00 99.67H503.00M330.00 103.53H503.00M330.00 107.38H503.00M330.00 111.23H503.00M330.00 115.09H503.00M330.00 118.94H503.00M330.00 122.79H503.00M330.00 126.65H503.00M330.00 130.50H503.00M330.00 134.35H503.00M330.00 138.21H503.00M330.00 142.06H503.00M330.00 145.91H503.00M330.00 149.77H503.00M330.00 153.62H503.00M330.00 157.47H503.00M330.00 161.33H503.00M330.00 165.18H503.00M330.00 169.04H503.00M330.00 172.89H503.00M330.00 176.74H503.00M330.00 180.60H503.00M330.00 184.45H503.00M330.00 188.30H503.00M330.00 192.16H503.00M330.00 196.01H503.00M330.00 199.86H503.00M330.00 203.72H503.00M330.00 207.57H503.00M330.00 211.43H503.00M330.00 215.28H503.00M330.00 219.13H503.00M330.00 222.99H503.00M330.00 226.84H503.00M330.00 230.69H503.00M330.00 234.55H503.00M330.00 238.40H503.00M330.00 22.60V238.40M387.67 22.60V238.40M445.33 22.60V238.40M503.00 22.60V238.40" stroke="#1e1e1e" stroke-opacity="0.6" stroke-width="0.90" fill="none"/>
<text transform="translate(416.5 10.5)" font-size="10" font-weight="bold" text-anchor="middle" fill="#000">Notch core: late stage PC</text>
<text transform="translate(358.8 249.7)" font-size="10" text-anchor="middle" fill="#111" stroke="#111" stroke-width="0.2">&#8804;55</text>
<text transform="translate(416.5 249.7)" font-size="10" text-anchor="middle" fill="#111" stroke="#111" stroke-width="0.2">60-70</text>
<text transform="translate(474.2 249.7)" font-size="10" text-anchor="middle" fill="#111" stroke="#111" stroke-width="0.2">&gt;70</text>
<g font-size="10" fill="#5e5e5e"><text transform="translate(506.9 25.58) scale(0.25 0.27)">DLL1</text><text transform="translate(506.9 29.43) scale(0.25 0.27)">LFNG</text><text transform="translate(506.9 33.28) scale(0.25 0.27)">JAG1</text><text transform="translate(506.9 37.14) scale(0.25 0.27)">ATXN1L</text><text transform="translate(506.9 40.99) scale(0.25 0.27)">NOTCH1</text><text transform="translate(506.9 44.84) scale(0.25 0.27)">DTX4</text><text transform="translate(506.9 48.70) scale(0.25 0.27)">APH1B</text><text transform="translate(506.9 52.55) scale(0.25 0.27)">ADAM10</text><text transform="translate(506.9 56.41) scale(0.25 0.27)">DLL1</text><text transform="translate(506.9 60.26) scale(0.25 0.27)">LFNG</text><text transform="translate(506.9 64.11) scale(0.25 0.27)">JAG1</text><text transform="translate(506.9 67.97) scale(0.25 0.27)">ATXN1L</text><text transform="translate(506.9 71.82) scale(0.25 0.27)">NOTCH1</text><text transform="translate(506.9 75.67) scale(0.25 0.27)">DTX4</text><text transform="translate(506.9 79.53) scale(0.25 0.27)">APH1B</text><text transform="translate(506.9 83.38) scale(0.25 0.27)">ADAM10</text><text transform="translate(506.9 87.23) scale(0.25 0.27)">DLL1</text><text transform="translate(506.9 91.09) scale(0.25 0.27)">LFNG</text><text transform="translate(506.9 94.94) scale(0.25 0.27)">JAG1</text><text transform="translate(506.9 98.79) scale(0.25 0.27)">ATXN1L</text><text transform="translate(506.9 102.65) scale(0.25 0.27)">NOTCH1</text><text transform="translate(506.9 106.50) scale(0.25 0.27)">DTX4</text><text transform="translate(506.9 110.36) scale(0.25 0.27)">APH1B</text><text transform="translate(506.9 114.21) scale(0.25 0.27)">ADAM10</text><text transform="translate(506.9 118.06) scale(0.25 0.27)">DLL1</text><text transform="translate(506.9 121.92) scale(0.25 0.27)">LFNG</text><text transform="translate(506.9 125.77) scale(0.25 0.27)">JAG1</text><text transform="translate(506.9 129.62) scale(0.25 0.27)">ATXN1L</text><text transform="translate(506.9 133.48) scale(0.25 0.27)">NOTCH1</text><text transform="translate(506.9 137.33) scale(0.25 0.27)">DTX4</text><text transform="translate(506.9 141.18) scale(0.25 0.27)">APH1B</text><text transform="translate(506.9 145.04) scale(0.25 0.27)">ADAM10</text><text transform="translate(506.9 148.89) scale(0.25 0.27)">DLL1</text><text transform="translate(506.9 152.74) scale(0.25 0.27)">LFNG</text><text transform="translate(506.9 156.60) scale(0.25 0.27)">JAG1</text><text transform="translate(506.9 160.45) scale(0.25 0.27)">ATXN1L</text><text transform="translate(506.9 164.31) scale(0.25 0.27)">NOTCH1</text><text transform="translate(506.9 168.16) scale(0.25 0.27)">DTX4</text><text transform="translate(506.9 172.01) scale(0.25 0.27)">APH1B</text><text transform="translate(506.9 175.87) scale(0.25 0.27)">ADAM10</text><text transform="translate(506.9 179.72) scale(0.25 0.27)">DLL1</text><text transform="translate(506.9 183.57) scale(0.25 0.27)">LFNG</text><text transform="translate(506.9 187.43) scale(0.25 0.27)">JAG1</text><text transform="translate(506.9 191.28) scale(0.25 0.27)">ATXN1L</text><text transform="translate(506.9 195.13) scale(0.25 0.27)">NOTCH1</text><text transform="translate(506.9 198.99) scale(0.25 0.27)">DTX4</text><text transform="translate(506.9 202.84) scale(0.25 0.27)">APH1B</text><text transform="translate(506.9 206.69) scale(0.25 0.27)">ADAM10</text><text transform="translate(506.9 210.55) scale(0.25 0.27)">DLL1</text><text transform="translate(506.9 214.40) scale(0.25 0.27)">LFNG</text><text transform="translate(506.9 218.26) scale(0.25 0.27)">JAG1</text><text transform="translate(506.9 222.11) scale(0.25 0.27)">ATXN1L</text><text transform="translate(506.9 225.96) scale(0.25 0.27)">NOTCH1</text><text transform="translate(506.9 229.82) scale(0.25 0.27)">DTX4</text><text transform="translate(506.9 233.67) scale(0.25 0.27)">APH1B</text><text transform="translate(506.9 237.52) scale(0.25 0.27)">ADAM10</text></g>
<rect x="522.9" y="22.9" width="8.2" height="123.7" fill="url(#cb)"/>
<text transform="translate(532.7 35.2) scale(0.95 1)" font-size="8.8" fill="#111" stroke="#111" stroke-width="0.2">1</text>
<text transform="translate(532.7 62.0) scale(0.95 1)" font-size="8.8" fill="#111" stroke="#111" stroke-width="0.2">0.5</text>
<text transform="translate(532.7 88.8) scale(0.95 1)" font-size="8.8" fill="#111" stroke="#111" stroke-width="0.2">0</text>
<text transform="translate(532.7 115.5) scale(0.95 1)" font-size="8.8" fill="#111" stroke="#111" stroke-width="0.2">-0.5</text>
<text transform="translate(532.7 142.3) scale(0.95 1)" font-size="8.8" fill="#111" stroke="#111" stroke-width="0.2">-1</text>
<path d="M284.50 138.64V217.63M284.50 138.64H310.30M284.50 217.63H295.80M310.30 112.11V165.18M310.30 112.11H314.50M310.30 165.18H322.10M314.50 83.59V140.62M314.50 83.59H320.10M314.50 140.62H320.50M320.10 57.76V109.43M320.10 57.76H322.30M320.10 109.43H323.30M322.30 42.83V72.70M322.30 42.83H323.20M322.30 72.70H323.80M323.20 30.79V54.87M323.20 30.79H324.43M323.20 54.87H324.78M324.43 26.45V35.12M324.43 26.45H325.09M324.43 35.12H325.11M325.09 24.53V28.38M325.09 24.53H325.70M325.09 28.38H325.70M325.11 32.23V38.01M325.11 32.23H325.70M325.11 38.01H325.37M325.37 36.09V39.94M325.37 36.09H325.70M325.37 39.94H325.70M324.78 48.61V61.14M324.78 48.61H325.24M324.78 61.14H325.27M325.24 45.72V51.50M325.24 45.72H325.44M325.24 51.50H325.70M325.44 43.79V47.65M325.44 43.79H325.70M325.44 47.65H325.70M325.27 57.28V64.99M325.27 57.28H325.42M325.27 64.99H325.45M325.42 55.36V59.21M325.42 55.36H325.70M325.42 59.21H325.70M325.45 63.06V66.92M325.45 63.06H325.70M325.45 66.92H325.70M323.80 70.77V74.62M323.80 70.77H325.70M323.80 74.62H325.70M323.30 96.06V122.79M323.30 96.06H324.22M323.30 122.79H324.45M324.22 85.70V106.42M324.22 85.70H324.88M324.22 106.42H324.92M324.88 80.40V91.00M324.88 80.40H325.21M324.88 91.00H325.31M325.21 78.48V82.33M325.21 78.48H325.70M325.21 82.33H325.70M325.31 88.11V93.89M325.31 88.11H325.42M325.31 93.89H325.70M325.42 86.18V90.04M325.42 86.18H325.70M325.42 90.04H325.70M324.92 100.63V112.20M324.92 100.63H325.17M324.92 112.20H325.25M325.17 97.74V103.52M325.17 97.74H325.70M325.17 103.52H325.40M325.40 101.60V105.45M325.40 101.60H325.70M325.40 105.45H325.70M325.25 109.31V115.09M325.25 109.31H325.70M325.25 115.09H325.45M325.45 113.16V117.01M325.45 113.16H325.70M325.45 117.01H325.70M324.45 120.87V124.72M324.45 120.87H325.70M324.45 124.72H325.70M320.50 131.46V149.77M320.50 131.46H323.00M320.50 149.77H323.50M323.00 128.57V134.35M323.00 128.57H325.70M323.00 134.35H324.50M324.50 132.43V136.28M324.50 132.43H325.70M324.50 136.28H325.70M323.50 144.95V154.58M323.50 144.95H324.34M323.50 154.58H324.55M324.34 142.06V147.84M324.34 142.06H325.07M324.34 147.84H325.70M325.07 140.13V143.99M325.07 140.13H325.70M325.07 143.99H325.70M324.55 151.69V157.48M324.55 151.69H325.70M324.55 157.48H325.10M325.10 155.55V159.40M325.10 155.55H325.70M325.10 159.40H325.70M322.10 163.26V167.11M322.10 163.26H325.70M322.10 167.11H325.70M295.80 207.95V227.32M295.80 207.95H305.60M295.80 227.32H310.10M305.60 200.62V215.28M305.60 200.62H315.30M305.60 215.28H316.80M315.30 193.66V207.57M315.30 193.66H318.30M315.30 207.57H324.20M318.30 187.46V199.86M318.30 187.46H321.40M318.30 199.86H323.60M321.40 182.76V192.16M321.40 182.76H322.80M321.40 192.16H323.60M322.80 179.15V186.38M322.80 179.15H324.00M322.80 186.38H325.70M324.00 175.78V182.52M324.00 175.78H324.80M324.00 182.52H325.70M324.80 172.89V178.67M324.80 172.89H325.20M324.80 178.67H325.70M325.20 170.96V174.82M325.20 170.96H325.70M325.20 174.82H325.70M323.60 190.23V194.08M323.60 190.23H325.70M323.60 194.08H325.70M323.60 197.94V201.79M323.60 197.94H325.70M323.60 201.79H325.70M324.20 205.64V209.50M324.20 205.64H325.70M324.20 209.50H325.70M316.80 213.35V217.21M316.80 213.35H325.70M316.80 217.21H325.70M310.10 222.99V231.66M310.10 222.99H323.60M310.10 231.66H320.60M323.60 221.06V224.91M323.60 221.06H325.70M323.60 224.91H325.70M320.60 228.77V234.55M320.60 228.77H325.70M320.60 234.55H323.50M323.50 232.62V236.47M323.50 232.62H325.70M323.50 236.47H325.70" stroke="#333" stroke-width="0.75" fill="none"/>
<rect x="50.00" y="303.10" width="57.27" height="4.31" fill="#fbb76d"/>
<rect x="107.27" y="303.10" width="57.27" height="4.31" fill="#fbb76d"/>
<rect x="164.53" y="303.10" width="57.27" height="4.31" fill="#1976c6"/>
<rect x="50.00" y="307.41" width="57.27" height="4.31" fill="#fbb76d"/>
<rect x="107.27" y="307.41" width="57.27" height="4.31" fill="#fbb269"/>
<rect x="164.53" y="307.41" width="57.27" height="4.31" fill="#1976c6"/>
<rect x="50.00" y="311.72" width="57.27" height="4.31" fill="#fbb76d"/>
<rect x="107.27" y="311.72" width="57.27" height="4.31" fill="#fbb76d"/>
<rect x="164.53" y="311.72" width="57.27" height="4.31" fill="#1976c6"/>
<rect x="50.00" y="316.04" width="57.27" height="4.31" fill="#fbb76d"/>
<rect x="107.27" y="316.04" width="57.27" height="4.31" fill="#fbb76d"/>
<rect x="164.53" y="316.04" width="57.27" height="4.31" fill="#1976c6"/>
<rect x="50.00" y="320.35" width="57.27" height="4.31" fill="#fbbc71"/>
<rect x="107.27" y="320.35" width="57.27" height="4.31" fill="#fbb76d"/>
<rect x="164.53" y="320.35" width="57.27" height="4.31" fill="#1976c6"/>
<rect x="50.00" y="324.66" width="57.27" height="4.31" fill="#fbb76d"/>
<rect x="107.27" y="324.66" width="57.27" height="4.31" fill="#fbb76d"/>
<rect x="164.53" y="324.66" width="57.27" height="4.31" fill="#1976c6"/>
<rect x="50.00" y="328.97" width="57.27" height="4.31" fill="#faaa64"/>
<rect x="107.27" y="328.97" width="57.27" height="4.31" fill="#fbb76d"/>
<rect x="164.53" y="328.97" width="57.27" height="4.31" fill="#1976c6"/>
<rect x="50.00" y="333.28" width="57.27" height="4.31" fill="#faa560"/>
<rect x="107.27" y="333.28" width="57.27" height="4.31" fill="#fbb76d"/>
<rect x="164.53" y="333.28" width="57.27" height="4.31" fill="#1976c6"/>
<rect x="50.00" y="337.60" width="57.27" height="4.31" fill="#faaa64"/>
<rect x="107.27" y="337.60" width="57.27" height="4.31" fill="#fbbc71"/>
<rect x="164.53" y="337.60" width="57.27" height="4.31" fill="#1976c6"/>
<rect x="50.00" y="341.91" width="57.27" height="4.31" fill="#ffe193"/>
<rect x="107.27" y="341.91" width="57.27" height="4.31" fill="#fa9151"/>
<rect x="164.53" y="341.91" width="57.27" height="4.31" fill="#1976c6"/>
<rect x="50.00" y="346.22" width="57.27" height="4.31" fill="#ffe193"/>
<rect x="107.27" y="346.22" width="57.27" height="4.31" fill="#fa9655"/>
<rect x="164.53" y="346.22" width="57.27" height="4.31" fill="#1976c6"/>
<rect x="50.00" y="350.53" width="57.27" height="4.31" fill="#ffee9e"/>
<rect x="107.27" y="350.53" width="57.27" height="4.31" fill="#fa8448"/>
<rect x="164.53" y="350.53" width="57.27" height="4.31" fill="#1976c6"/>
<rect x="50.00" y="354.84" width="57.27" height="4.31" fill="#fff8b3"/>
<rect x="107.27" y="354.84" width="57.27" height="4.31" fill="#f5502f"/>
<rect x="164.53" y="354.84" width="57.27" height="4.31" fill="#3789c9"/>
<rect x="50.00" y="359.16" width="57.27" height="4.31" fill="#fafac8"/>
<rect x="107.27" y="359.16" width="57.27" height="4.31" fill="#f5482a"/>
<rect x="164.53" y="359.16" width="57.27" height="4.31" fill="#4b98d0"/>
<rect x="50.00" y="363.47" width="57.27" height="4.31" fill="#fdfabd"/>
<rect x="107.27" y="363.47" width="57.27" height="4.31" fill="#f43d25"/>
<rect x="164.53" y="363.47" width="57.27" height="4.31" fill="#4191cd"/>
<rect x="50.00" y="367.78" width="57.27" height="4.31" fill="#f8fbd3"/>
<rect x="107.27" y="367.78" width="57.27" height="4.31" fill="#f43d25"/>
<rect x="164.53" y="367.78" width="57.27" height="4.31" fill="#539ed3"/>
<rect x="50.00" y="372.09" width="57.27" height="4.31" fill="#fff4a9"/>
<rect x="107.27" y="372.09" width="57.27" height="4.31" fill="#f5643a"/>
<rect x="164.53" y="372.09" width="57.27" height="4.31" fill="#3789c9"/>
<rect x="50.00" y="376.40" width="57.27" height="4.31" fill="#fff0a3"/>
<rect x="107.27" y="376.40" width="57.27" height="4.31" fill="#f5643a"/>
<rect x="164.53" y="376.40" width="57.27" height="4.31" fill="#267ec6"/>
<rect x="50.00" y="380.72" width="57.27" height="4.31" fill="#fa894c"/>
<rect x="107.27" y="380.72" width="57.27" height="4.31" fill="#ffe193"/>
<rect x="164.53" y="380.72" width="57.27" height="4.31" fill="#207ac6"/>
<rect x="50.00" y="385.03" width="57.27" height="4.31" fill="#f98046"/>
<rect x="107.27" y="385.03" width="57.27" height="4.31" fill="#ffee9e"/>
<rect x="164.53" y="385.03" width="57.27" height="4.31" fill="#207ac6"/>
<rect x="50.00" y="389.34" width="57.27" height="4.31" fill="#f87943"/>
<rect x="107.27" y="389.34" width="57.27" height="4.31" fill="#ffe999"/>
<rect x="164.53" y="389.34" width="57.27" height="4.31" fill="#207ac6"/>
<rect x="50.00" y="393.65" width="57.27" height="4.31" fill="#fa894c"/>
<rect x="107.27" y="393.65" width="57.27" height="4.31" fill="#fff2a6"/>
<rect x="164.53" y="393.65" width="57.27" height="4.31" fill="#207ac6"/>
<rect x="50.00" y="397.96" width="57.27" height="4.31" fill="#f98046"/>
<rect x="107.27" y="397.96" width="57.27" height="4.31" fill="#ffee9e"/>
<rect x="164.53" y="397.96" width="57.27" height="4.31" fill="#207ac6"/>
<rect x="50.00" y="402.28" width="57.27" height="4.31" fill="#f55c35"/>
<rect x="107.27" y="402.28" width="57.27" height="4.31" fill="#fff8b3"/>
<rect x="164.53" y="402.28" width="57.27" height="4.31" fill="#2d82c6"/>
<rect x="50.00" y="406.59" width="57.27" height="4.31" fill="#f5482a"/>
<rect x="107.27" y="406.59" width="57.27" height="4.31" fill="#f9fbcf"/>
<rect x="164.53" y="406.59" width="57.27" height="4.31" fill="#4191cd"/>
<rect x="50.00" y="410.90" width="57.27" height="4.31" fill="#f2261c"/>
<rect x="107.27" y="410.90" width="57.27" height="4.31" fill="#9bcde8"/>
<rect x="164.53" y="410.90" width="57.27" height="4.31" fill="#d1eaf2"/>
<rect x="50.00" y="415.21" width="57.27" height="4.31" fill="#f2261c"/>
<rect x="107.27" y="415.21" width="57.27" height="4.31" fill="#e0f0f2"/>
<rect x="164.53" y="415.21" width="57.27" height="4.31" fill="#66abd9"/>
<rect x="50.00" y="419.52" width="57.27" height="4.31" fill="#a6d3ea"/>
<rect x="107.27" y="419.52" width="57.27" height="4.31" fill="#f33121"/>
<rect x="164.53" y="419.52" width="57.27" height="4.31" fill="#80bce1"/>
<rect x="50.00" y="423.84" width="57.27" height="4.31" fill="#c8e6f2"/>
<rect x="107.27" y="423.84" width="57.27" height="4.31" fill="#f33121"/>
<rect x="164.53" y="423.84" width="57.27" height="4.31" fill="#8ec5e5"/>
<rect x="50.00" y="428.15" width="57.27" height="4.31" fill="#a2d1ea"/>
<rect x="107.27" y="428.15" width="57.27" height="4.31" fill="#f33121"/>
<rect x="164.53" y="428.15" width="57.27" height="4.31" fill="#93c8e6"/>
<rect x="50.00" y="432.46" width="57.27" height="4.31" fill="#73b4de"/>
<rect x="107.27" y="432.46" width="57.27" height="4.31" fill="#f33121"/>
<rect x="164.53" y="432.46" width="57.27" height="4.31" fill="#dbeef2"/>
<rect x="50.00" y="436.77" width="57.27" height="4.31" fill="#78b7df"/>
<rect x="107.27" y="436.77" width="57.27" height="4.31" fill="#f33121"/>
<rect x="164.53" y="436.77" width="57.27" height="4.31" fill="#a6d3ea"/>
<rect x="50.00" y="441.08" width="57.27" height="4.31" fill="#267ec6"/>
<rect x="107.27" y="441.08" width="57.27" height="4.31" fill="#f5643a"/>
<rect x="164.53" y="441.08" width="57.27" height="4.31" fill="#fff4a9"/>
<rect x="50.00" y="445.40" width="57.27" height="4.31" fill="#2d82c6"/>
<rect x="107.27" y="445.40" width="57.27" height="4.31" fill="#fff4a9"/>
<rect x="164.53" y="445.40" width="57.27" height="4.31" fill="#f5502f"/>
<rect x="50.00" y="449.71" width="57.27" height="4.31" fill="#2d82c6"/>
<rect x="107.27" y="449.71" width="57.27" height="4.31" fill="#fff4a9"/>
<rect x="164.53" y="449.71" width="57.27" height="4.31" fill="#f5502f"/>
<rect x="50.00" y="454.02" width="57.27" height="4.31" fill="#2d82c6"/>
<rect x="107.27" y="454.02" width="57.27" height="4.31" fill="#fff4a9"/>
<rect x="164.53" y="454.02" width="57.27" height="4.31" fill="#f5502f"/>
<rect x="50.00" y="458.33" width="57.27" height="4.31" fill="#2d82c6"/>
<rect x="107.27" y="458.33" width="57.27" height="4.31" fill="#fff4a9"/>
<rect x="164.53" y="458.33" width="57.27" height="4.31" fill="#f5502f"/>
<rect x="50.00" y="462.64" width="57.27" height="4.31" fill="#2d82c6"/>
<rect x="107.27" y="462.64" width="57.27" height="4.31" fill="#fff4a9"/>
<rect x="164.53" y="462.64" width="57.27" height="4.31" fill="#f5502f"/>
<rect x="50.00" y="466.96" width="57.27" height="4.31" fill="#267ec6"/>
<rect x="107.27" y="466.96" width="57.27" height="4.31" fill="#fff0a3"/>
<rect x="164.53" y="466.96" width="57.27" height="4.31" fill="#f5643a"/>
<rect x="50.00" y="471.27" width="57.27" height="4.31" fill="#2d82c6"/>
<rect x="107.27" y="471.27" width="57.27" height="4.31" fill="#fff2a6"/>
<rect x="164.53" y="471.27" width="57.27" height="4.31" fill="#f55c35"/>
<rect x="50.00" y="475.58" width="57.27" height="4.31" fill="#8ec5e5"/>
<rect x="107.27" y="475.58" width="57.27" height="4.31" fill="#a6d3ea"/>
<rect x="164.53" y="475.58" width="57.27" height="4.31" fill="#f2261c"/>
<rect x="50.00" y="479.89" width="57.27" height="4.31" fill="#9bcde8"/>
<rect x="107.27" y="479.89" width="57.27" height="4.31" fill="#9bcde8"/>
<rect x="164.53" y="479.89" width="57.27" height="4.31" fill="#f2261c"/>
<rect x="50.00" y="484.20" width="57.27" height="4.31" fill="#73b4de"/>
<rect x="107.27" y="484.20" width="57.27" height="4.31" fill="#e4f2f2"/>
<rect x="164.53" y="484.20" width="57.27" height="4.31" fill="#f2261c"/>
<rect x="50.00" y="488.52" width="57.27" height="4.31" fill="#6eb0dc"/>
<rect x="107.27" y="488.52" width="57.27" height="4.31" fill="#f8fbd3"/>
<rect x="164.53" y="488.52" width="57.27" height="4.31" fill="#f2261c"/>
<rect x="50.00" y="492.83" width="57.27" height="4.31" fill="#f8fbd3"/>
<rect x="107.27" y="492.83" width="57.27" height="4.31" fill="#6eb0dc"/>
<rect x="164.53" y="492.83" width="57.27" height="4.31" fill="#f2261c"/>
<rect x="50.00" y="497.14" width="57.27" height="4.31" fill="#dbeef2"/>
<rect x="107.27" y="497.14" width="57.27" height="4.31" fill="#80bce1"/>
<rect x="164.53" y="497.14" width="57.27" height="4.31" fill="#f2261c"/>
<rect x="50.00" y="501.45" width="57.27" height="4.31" fill="#fbb76d"/>
<rect x="107.27" y="501.45" width="57.27" height="4.31" fill="#1976c6"/>
<rect x="164.53" y="501.45" width="57.27" height="4.31" fill="#fbb76d"/>
<rect x="50.00" y="505.76" width="57.27" height="4.31" fill="#fbbc71"/>
<rect x="107.27" y="505.76" width="57.27" height="4.31" fill="#1976c6"/>
<rect x="164.53" y="505.76" width="57.27" height="4.31" fill="#fbb76d"/>
<rect x="50.00" y="510.08" width="57.27" height="4.31" fill="#ffdc8e"/>
<rect x="107.27" y="510.08" width="57.27" height="4.31" fill="#207ac6"/>
<rect x="164.53" y="510.08" width="57.27" height="4.31" fill="#fa9d5b"/>
<rect x="50.00" y="514.39" width="57.27" height="4.31" fill="#f5643a"/>
<rect x="107.27" y="514.39" width="57.27" height="4.31" fill="#2d82c6"/>
<rect x="164.53" y="514.39" width="57.27" height="4.31" fill="#ffe999"/>
<path d="M50.00 303.10H221.80M50.00 307.41H221.80M50.00 311.72H221.80M50.00 316.04H221.80M50.00 320.35H221.80M50.00 324.66H221.80M50.00 328.97H221.80M50.00 333.28H221.80M50.00 337.60H221.80M50.00 341.91H221.80M50.00 346.22H221.80M50.00 350.53H221.80M50.00 354.84H221.80M50.00 359.16H221.80M50.00 363.47H221.80M50.00 367.78H221.80M50.00 372.09H221.80M50.00 376.40H221.80M50.00 380.72H221.80M50.00 385.03H221.80M50.00 389.34H221.80M50.00 393.65H221.80M50.00 397.96H221.80M50.00 402.28H221.80M50.00 406.59H221.80M50.00 410.90H221.80M50.00 415.21H221.80M50.00 419.52H221.80M50.00 423.84H221.80M50.00 428.15H221.80M50.00 432.46H221.80M50.00 436.77H221.80M50.00 441.08H221.80M50.00 445.40H221.80M50.00 449.71H221.80M50.00 454.02H221.80M50.00 458.33H221.80M50.00 462.64H221.80M50.00 466.96H221.80M50.00 471.27H221.80M50.00 475.58H221.80M50.00 479.89H221.80M50.00 484.20H221.80M50.00 488.52H221.80M50.00 492.83H221.80M50.00 497.14H221.80M50.00 501.45H221.80M50.00 505.76H221.80M50.00 510.08H221.80M50.00 514.39H221.80M50.00 518.70H221.80M50.00 303.10V518.70M107.27 303.10V518.70M164.53 303.10V518.70M221.80 303.10V518.70" stroke="#1e1e1e" stroke-opacity="0.6" stroke-width="0.90" fill="none"/>
<text transform="translate(136.1 290.9)" font-size="10" font-weight="bold" text-anchor="middle" fill="#000">Notch core: local PC</text>
<text transform="translate(78.6 530.0)" font-size="10" text-anchor="middle" fill="#111" stroke="#111" stroke-width="0.2">&#8804;55</text>
<text transform="translate(135.9 530.0)" font-size="10" text-anchor="middle" fill="#111" stroke="#111" stroke-width="0.2">60-70</text>
<text transform="translate(193.2 530.0)" font-size="10" text-anchor="middle" fill="#111" stroke="#111" stroke-width="0.2">&gt;70</text>
<g font-size="10" fill="#5e5e5e"><text transform="translate(225.9 306.31) scale(0.25 0.27)">HEY2</text><text transform="translate(225.9 310.62) scale(0.25 0.27)">HDAC1</text><text transform="translate(225.9 314.93) scale(0.25 0.27)">JAG2</text><text transform="translate(225.9 319.24) scale(0.25 0.27)">EP300</text><text transform="translate(225.9 323.55) scale(0.25 0.27)">NOTCH2</text><text transform="translate(225.9 327.87) scale(0.25 0.27)">NUMBL</text><text transform="translate(225.9 332.18) scale(0.25 0.27)">DTX2</text><text transform="translate(225.9 336.49) scale(0.25 0.27)">DTX3L</text><text transform="translate(225.9 340.80) scale(0.25 0.27)">HEY2</text><text transform="translate(225.9 345.11) scale(0.25 0.27)">HDAC1</text><text transform="translate(225.9 349.43) scale(0.25 0.27)">JAG2</text><text transform="translate(225.9 353.74) scale(0.25 0.27)">EP300</text><text transform="translate(225.9 358.05) scale(0.25 0.27)">NOTCH2</text><text transform="translate(225.9 362.36) scale(0.25 0.27)">NUMBL</text><text transform="translate(225.9 366.67) scale(0.25 0.27)">DTX2</text><text transform="translate(225.9 370.99) scale(0.25 0.27)">DTX3L</text><text transform="translate(225.9 375.30) scale(0.25 0.27)">HEY2</text><text transform="translate(225.9 379.61) scale(0.25 0.27)">HDAC1</text><text transform="translate(225.9 383.92) scale(0.25 0.27)">JAG2</text><text transform="translate(225.9 388.23) scale(0.25 0.27)">EP300</text><text transform="translate(225.9 392.55) scale(0.25 0.27)">NOTCH2</text><text transform="translate(225.9 396.86) scale(0.25 0.27)">NUMBL</text><text transform="translate(225.9 401.17) scale(0.25 0.27)">DTX2</text><text transform="translate(225.9 405.48) scale(0.25 0.27)">DTX3L</text><text transform="translate(225.9 409.79) scale(0.25 0.27)">HEY2</text><text transform="translate(225.9 414.11) scale(0.25 0.27)">HDAC1</text><text transform="translate(225.9 418.42) scale(0.25 0.27)">JAG2</text><text transform="translate(225.9 422.73) scale(0.25 0.27)">EP300</text><text transform="translate(225.9 427.04) scale(0.25 0.27)">NOTCH2</text><text transform="translate(225.9 431.35) scale(0.25 0.27)">NUMBL</text><text transform="translate(225.9 435.67) scale(0.25 0.27)">DTX2</text><text transform="translate(225.9 439.98) scale(0.25 0.27)">DTX3L</text><text transform="translate(225.9 444.29) scale(0.25 0.27)">HEY2</text><text transform="translate(225.9 448.60) scale(0.25 0.27)">HDAC1</text><text transform="translate(225.9 452.91) scale(0.25 0.27)">JAG2</text><text transform="translate(225.9 457.23) scale(0.25 0.27)">EP300</text><text transform="translate(225.9 461.54) scale(0.25 0.27)">NOTCH2</text><text transform="translate(225.9 465.85) scale(0.25 0.27)">NUMBL</text><text transform="translate(225.9 470.16) scale(0.25 0.27)">DTX2</text><text transform="translate(225.9 474.47) scale(0.25 0.27)">DTX3L</text><text transform="translate(225.9 478.79) scale(0.25 0.27)">HEY2</text><text transform="translate(225.9 483.10) scale(0.25 0.27)">HDAC1</text><text transform="translate(225.9 487.41) scale(0.25 0.27)">JAG2</text><text transform="translate(225.9 491.72) scale(0.25 0.27)">EP300</text><text transform="translate(225.9 496.03) scale(0.25 0.27)">NOTCH2</text><text transform="translate(225.9 500.35) scale(0.25 0.27)">NUMBL</text><text transform="translate(225.9 504.66) scale(0.25 0.27)">DTX2</text><text transform="translate(225.9 508.97) scale(0.25 0.27)">DTX3L</text><text transform="translate(225.9 513.28) scale(0.25 0.27)">HEY2</text><text transform="translate(225.9 517.59) scale(0.25 0.27)">HDAC1</text></g>
<rect x="243.2" y="303.4" width="7.9" height="124.5" fill="url(#cb)"/>
<text transform="translate(253.0 315.8) scale(0.95 1)" font-size="8.8" fill="#111" stroke="#111" stroke-width="0.2">1</text>
<text transform="translate(253.0 342.7) scale(0.95 1)" font-size="8.8" fill="#111" stroke="#111" stroke-width="0.2">0.5</text>
<text transform="translate(253.0 369.7) scale(0.95 1)" font-size="8.8" fill="#111" stroke="#111" stroke-width="0.2">0</text>
<text transform="translate(253.0 396.6) scale(0.95 1)" font-size="8.8" fill="#111" stroke="#111" stroke-width="0.2">-0.5</text>
<text transform="translate(253.0 423.6) scale(0.95 1)" font-size="8.8" fill="#111" stroke="#111" stroke-width="0.2">-1</text>
<path d="M4.50 409.37V494.78M4.50 409.37H17.30M4.50 494.78H21.70M17.30 381.15V437.58M17.30 381.15H24.80M17.30 437.58H30.10M24.80 354.78V407.53M24.80 354.78H36.80M24.80 407.53H30.80M36.80 338.27V371.28M36.80 338.27H42.70M36.80 371.28H41.30M42.70 327.09V349.45M42.70 327.09H43.80M42.70 349.45H44.30M43.80 316.58V337.60M43.80 316.58H44.64M43.80 337.60H44.85M44.64 308.49V324.66M44.64 308.49H45.26M44.64 324.66H45.36M45.26 305.26V311.72M45.26 305.26H45.90M45.26 311.72H45.61M45.61 309.57V313.88M45.61 309.57H45.90M45.61 313.88H45.90M45.36 320.35V328.97M45.36 320.35H45.65M45.36 328.97H45.66M45.65 318.19V322.50M45.65 318.19H45.90M45.65 322.50H45.90M45.66 326.82V331.13M45.66 326.82H45.90M45.66 331.13H45.90M44.85 335.44V339.75M44.85 335.44H45.90M44.85 339.75H45.90M44.30 346.22V352.69M44.30 346.22H45.20M44.30 352.69H45.90M45.20 344.06V348.38M45.20 344.06H45.90M45.20 348.38H45.90M41.30 366.16V376.40M41.30 366.16H43.50M41.30 376.40H45.00M43.50 362.39V369.94M43.50 362.39H44.70M43.50 369.94H45.90M44.70 359.16V365.62M44.70 359.16H45.30M44.70 365.62H45.90M45.30 357.00V361.31M45.30 357.00H45.90M45.30 361.31H45.90M45.00 374.25V378.56M45.00 374.25H45.90M45.00 378.56H45.90M30.80 399.85V415.21M30.80 399.85H40.60M30.80 415.21H40.60M40.60 393.11V406.59M40.60 393.11H42.90M40.60 406.59H43.60M42.90 388.26V397.96M42.90 388.26H44.00M42.90 397.96H44.50M44.00 385.03V391.50M44.00 385.03H45.00M44.00 391.50H45.90M45.00 382.87V387.18M45.00 382.87H45.90M45.00 387.18H45.90M44.50 395.81V400.12M44.50 395.81H45.90M44.50 400.12H45.90M43.60 404.43V408.74M43.60 404.43H45.90M43.60 408.74H45.90M40.60 413.06V417.37M40.60 413.06H45.90M40.60 417.37H45.90M30.10 431.92V443.24M30.10 431.92H39.80M30.10 443.24H45.90M39.80 427.07V436.77M39.80 427.07H43.60M39.80 436.77H43.60M43.60 423.84V430.30M43.60 423.84H44.50M43.60 430.30H45.90M44.50 421.68V425.99M44.50 421.68H45.90M44.50 425.99H45.90M43.60 434.62V438.93M43.60 434.62H45.90M43.60 438.93H45.90M21.70 476.79V512.77M21.70 476.79H32.50M21.70 512.77H36.50M32.50 462.91V490.67M32.50 462.91H42.60M32.50 490.67H36.50M42.60 454.56V471.27M42.60 454.56H44.30M42.60 471.27H43.50M44.30 449.71V459.41M44.30 449.71H44.94M44.30 459.41H44.96M44.94 447.55V451.86M44.94 447.55H45.90M44.94 451.86H45.90M44.96 456.18V462.64M44.96 456.18H45.90M44.96 462.64H45.46M45.46 460.49V464.80M45.46 460.49H45.90M45.46 464.80H45.90M43.50 469.11V473.42M43.50 469.11H45.90M43.50 473.42H45.90M36.50 484.20V497.14M36.50 484.20H40.60M36.50 497.14H43.30M40.60 479.89V488.52M40.60 479.89H43.50M40.60 488.52H43.50M43.50 477.74V482.05M43.50 477.74H45.90M43.50 482.05H45.90M43.50 486.36V490.67M43.50 486.36H45.90M43.50 490.67H45.90M43.30 494.98V499.30M43.30 494.98H45.90M43.30 499.30H45.90M36.50 509.00V516.54M36.50 509.00H41.90M36.50 516.54H45.90M41.90 505.76V512.23M41.90 505.76H44.00M41.90 512.23H45.90M44.00 503.61V507.92M44.00 503.61H45.90M44.00 507.92H45.90" stroke="#333" stroke-width="0.75" fill="none"/>
<rect x="330.00" y="303.10" width="57.23" height="4.31" fill="#fafac8"/>
<rect x="387.23" y="303.10" width="57.23" height="4.31" fill="#58a1d5"/>
<rect x="444.47" y="303.10" width="57.23" height="4.31" fill="#f2261c"/>
<rect x="330.00" y="307.41" width="57.23" height="4.31" fill="#fbfac4"/>
<rect x="387.23" y="307.41" width="57.23" height="4.31" fill="#539ed3"/>
<rect x="444.47" y="307.41" width="57.23" height="4.31" fill="#f2261c"/>
<rect x="330.00" y="311.72" width="57.23" height="4.31" fill="#fcfac1"/>
<rect x="387.23" y="311.72" width="57.23" height="4.31" fill="#4b98d0"/>
<rect x="444.47" y="311.72" width="57.23" height="4.31" fill="#f2261c"/>
<rect x="330.00" y="316.02" width="57.23" height="4.31" fill="#f1f8e1"/>
<rect x="387.23" y="316.02" width="57.23" height="4.31" fill="#58a1d5"/>
<rect x="444.47" y="316.02" width="57.23" height="4.31" fill="#f2261c"/>
<rect x="330.00" y="320.33" width="57.23" height="4.31" fill="#e4f2f2"/>
<rect x="387.23" y="320.33" width="57.23" height="4.31" fill="#66abd9"/>
<rect x="444.47" y="320.33" width="57.23" height="4.31" fill="#f2261c"/>
<rect x="330.00" y="324.64" width="57.23" height="4.31" fill="#c8e6f2"/>
<rect x="387.23" y="324.64" width="57.23" height="4.31" fill="#80bce1"/>
<rect x="444.47" y="324.64" width="57.23" height="4.31" fill="#f2261c"/>
<rect x="330.00" y="328.95" width="57.23" height="4.31" fill="#dbeef2"/>
<rect x="387.23" y="328.95" width="57.23" height="4.31" fill="#73b4de"/>
<rect x="444.47" y="328.95" width="57.23" height="4.31" fill="#f2261c"/>
<rect x="330.00" y="333.26" width="57.23" height="4.31" fill="#4191cd"/>
<rect x="387.23" y="333.26" width="57.23" height="4.31" fill="#f8fbd3"/>
<rect x="444.47" y="333.26" width="57.23" height="4.31" fill="#f2261c"/>
<rect x="330.00" y="337.56" width="57.23" height="4.31" fill="#4191cd"/>
<rect x="387.23" y="337.56" width="57.23" height="4.31" fill="#fffab6"/>
<rect x="444.47" y="337.56" width="57.23" height="4.31" fill="#f2261c"/>
<rect x="330.00" y="341.87" width="57.23" height="4.31" fill="#3789c9"/>
<rect x="387.23" y="341.87" width="57.23" height="4.31" fill="#fff0a3"/>
<rect x="444.47" y="341.87" width="57.23" height="4.31" fill="#f5482a"/>
<rect x="330.00" y="346.18" width="57.23" height="4.31" fill="#73b4de"/>
<rect x="387.23" y="346.18" width="57.23" height="4.31" fill="#e0f0f2"/>
<rect x="444.47" y="346.18" width="57.23" height="4.31" fill="#f2261c"/>
<rect x="330.00" y="350.49" width="57.23" height="4.31" fill="#80bce1"/>
<rect x="387.23" y="350.49" width="57.23" height="4.31" fill="#e8f4ed"/>
<rect x="444.47" y="350.49" width="57.23" height="4.31" fill="#f2261c"/>
<rect x="330.00" y="354.80" width="57.23" height="4.31" fill="#78b7df"/>
<rect x="387.23" y="354.80" width="57.23" height="4.31" fill="#d5ecf2"/>
<rect x="444.47" y="354.80" width="57.23" height="4.31" fill="#f2261c"/>
<rect x="330.00" y="359.10" width="57.23" height="4.31" fill="#fff4a9"/>
<rect x="387.23" y="359.10" width="57.23" height="4.31" fill="#267ec6"/>
<rect x="444.47" y="359.10" width="57.23" height="4.31" fill="#f5643a"/>
<rect x="330.00" y="363.41" width="57.23" height="4.31" fill="#fff8b3"/>
<rect x="387.23" y="363.41" width="57.23" height="4.31" fill="#3789c9"/>
<rect x="444.47" y="363.41" width="57.23" height="4.31" fill="#f5482a"/>
<rect x="330.00" y="367.72" width="57.23" height="4.31" fill="#fff2a6"/>
<rect x="387.23" y="367.72" width="57.23" height="4.31" fill="#267ec6"/>
<rect x="444.47" y="367.72" width="57.23" height="4.31" fill="#f66a3d"/>
<rect x="330.00" y="372.03" width="57.23" height="4.31" fill="#ffe999"/>
<rect x="387.23" y="372.03" width="57.23" height="4.31" fill="#207ac6"/>
<rect x="444.47" y="372.03" width="57.23" height="4.31" fill="#f98046"/>
<rect x="330.00" y="376.34" width="57.23" height="4.31" fill="#fbbc71"/>
<rect x="387.23" y="376.34" width="57.23" height="4.31" fill="#207ac6"/>
<rect x="444.47" y="376.34" width="57.23" height="4.31" fill="#fbb269"/>
<rect x="330.00" y="380.64" width="57.23" height="4.31" fill="#ffdc8e"/>
<rect x="387.23" y="380.64" width="57.23" height="4.31" fill="#207ac6"/>
<rect x="444.47" y="380.64" width="57.23" height="4.31" fill="#fa9857"/>
<rect x="330.00" y="384.95" width="57.23" height="4.31" fill="#267ec6"/>
<rect x="387.23" y="384.95" width="57.23" height="4.31" fill="#f87943"/>
<rect x="444.47" y="384.95" width="57.23" height="4.31" fill="#fff0a3"/>
<rect x="330.00" y="389.26" width="57.23" height="4.31" fill="#267ec6"/>
<rect x="387.23" y="389.26" width="57.23" height="4.31" fill="#fa894c"/>
<rect x="444.47" y="389.26" width="57.23" height="4.31" fill="#fff2a6"/>
<rect x="330.00" y="393.57" width="57.23" height="4.31" fill="#4191cd"/>
<rect x="387.23" y="393.57" width="57.23" height="4.31" fill="#f5502f"/>
<rect x="444.47" y="393.57" width="57.23" height="4.31" fill="#fafac8"/>
<rect x="330.00" y="397.88" width="57.23" height="4.31" fill="#207ac6"/>
<rect x="387.23" y="397.88" width="57.23" height="4.31" fill="#fbb76d"/>
<rect x="444.47" y="397.88" width="57.23" height="4.31" fill="#fa9857"/>
<rect x="330.00" y="402.18" width="57.23" height="4.31" fill="#207ac6"/>
<rect x="387.23" y="402.18" width="57.23" height="4.31" fill="#fbb269"/>
<rect x="444.47" y="402.18" width="57.23" height="4.31" fill="#faaa64"/>
<rect x="330.00" y="406.49" width="57.23" height="4.31" fill="#f98046"/>
<rect x="387.23" y="406.49" width="57.23" height="4.31" fill="#267ec6"/>
<rect x="444.47" y="406.49" width="57.23" height="4.31" fill="#fff0a3"/>
<rect x="330.00" y="410.80" width="57.23" height="4.31" fill="#f66a3d"/>
<rect x="387.23" y="410.80" width="57.23" height="4.31" fill="#267ec6"/>
<rect x="444.47" y="410.80" width="57.23" height="4.31" fill="#fff0a3"/>
<rect x="330.00" y="415.11" width="57.23" height="4.31" fill="#f33121"/>
<rect x="387.23" y="415.11" width="57.23" height="4.31" fill="#66abd9"/>
<rect x="444.47" y="415.11" width="57.23" height="4.31" fill="#f9fbcf"/>
<rect x="330.00" y="419.42" width="57.23" height="4.31" fill="#fbb76d"/>
<rect x="387.23" y="419.42" width="57.23" height="4.31" fill="#faaa64"/>
<rect x="444.47" y="419.42" width="57.23" height="4.31" fill="#1976c6"/>
<rect x="330.00" y="423.72" width="57.23" height="4.31" fill="#fbb269"/>
<rect x="387.23" y="423.72" width="57.23" height="4.31" fill="#fbb269"/>
<rect x="444.47" y="423.72" width="57.23" height="4.31" fill="#1976c6"/>
<rect x="330.00" y="428.03" width="57.23" height="4.31" fill="#fbb76d"/>
<rect x="387.23" y="428.03" width="57.23" height="4.31" fill="#faa762"/>
<rect x="444.47" y="428.03" width="57.23" height="4.31" fill="#1976c6"/>
<rect x="330.00" y="432.34" width="57.23" height="4.31" fill="#fbb269"/>
<rect x="387.23" y="432.34" width="57.23" height="4.31" fill="#faa25e"/>
<rect x="444.47" y="432.34" width="57.23" height="4.31" fill="#1976c6"/>
<rect x="330.00" y="436.65" width="57.23" height="4.31" fill="#faaa64"/>
<rect x="387.23" y="436.65" width="57.23" height="4.31" fill="#fbbc71"/>
<rect x="444.47" y="436.65" width="57.23" height="4.31" fill="#1976c6"/>
<rect x="330.00" y="440.96" width="57.23" height="4.31" fill="#fa9857"/>
<rect x="387.23" y="440.96" width="57.23" height="4.31" fill="#ffdc8e"/>
<rect x="444.47" y="440.96" width="57.23" height="4.31" fill="#1976c6"/>
<rect x="330.00" y="445.26" width="57.23" height="4.31" fill="#fa8e4f"/>
<rect x="387.23" y="445.26" width="57.23" height="4.31" fill="#fff0a3"/>
<rect x="444.47" y="445.26" width="57.23" height="4.31" fill="#1976c6"/>
<rect x="330.00" y="449.57" width="57.23" height="4.31" fill="#fff4a9"/>
<rect x="387.23" y="449.57" width="57.23" height="4.31" fill="#f5643a"/>
<rect x="444.47" y="449.57" width="57.23" height="4.31" fill="#267ec6"/>
<rect x="330.00" y="453.88" width="57.23" height="4.31" fill="#fff2a6"/>
<rect x="387.23" y="453.88" width="57.23" height="4.31" fill="#f87943"/>
<rect x="444.47" y="453.88" width="57.23" height="4.31" fill="#267ec6"/>
<rect x="330.00" y="458.19" width="57.23" height="4.31" fill="#fff6ae"/>
<rect x="387.23" y="458.19" width="57.23" height="4.31" fill="#f66a3d"/>
<rect x="444.47" y="458.19" width="57.23" height="4.31" fill="#267ec6"/>
<rect x="330.00" y="462.50" width="57.23" height="4.31" fill="#ffe999"/>
<rect x="387.23" y="462.50" width="57.23" height="4.31" fill="#fa8448"/>
<rect x="444.47" y="462.50" width="57.23" height="4.31" fill="#267ec6"/>
<rect x="330.00" y="466.80" width="57.23" height="4.31" fill="#ffe193"/>
<rect x="387.23" y="466.80" width="57.23" height="4.31" fill="#fa8c4e"/>
<rect x="444.47" y="466.80" width="57.23" height="4.31" fill="#267ec6"/>
<rect x="330.00" y="471.11" width="57.23" height="4.31" fill="#f6fbda"/>
<rect x="387.23" y="471.11" width="57.23" height="4.31" fill="#f43d25"/>
<rect x="444.47" y="471.11" width="57.23" height="4.31" fill="#73b4de"/>
<rect x="330.00" y="475.42" width="57.23" height="4.31" fill="#f9fbcf"/>
<rect x="387.23" y="475.42" width="57.23" height="4.31" fill="#f43d25"/>
<rect x="444.47" y="475.42" width="57.23" height="4.31" fill="#58a1d5"/>
<rect x="330.00" y="479.73" width="57.23" height="4.31" fill="#fff4a9"/>
<rect x="387.23" y="479.73" width="57.23" height="4.31" fill="#f43d25"/>
<rect x="444.47" y="479.73" width="57.23" height="4.31" fill="#4191cd"/>
<rect x="330.00" y="484.04" width="57.23" height="4.31" fill="#d1eaf2"/>
<rect x="387.23" y="484.04" width="57.23" height="4.31" fill="#f43d25"/>
<rect x="444.47" y="484.04" width="57.23" height="4.31" fill="#8ec5e5"/>
<rect x="330.00" y="488.34" width="57.23" height="4.31" fill="#f2261c"/>
<rect x="387.23" y="488.34" width="57.23" height="4.31" fill="#f6fbda"/>
<rect x="444.47" y="488.34" width="57.23" height="4.31" fill="#4594ce"/>
<rect x="330.00" y="492.65" width="57.23" height="4.31" fill="#f2261c"/>
<rect x="387.23" y="492.65" width="57.23" height="4.31" fill="#f9fbcf"/>
<rect x="444.47" y="492.65" width="57.23" height="4.31" fill="#3d8ecb"/>
<rect x="330.00" y="496.96" width="57.23" height="4.31" fill="#f2261c"/>
<rect x="387.23" y="496.96" width="57.23" height="4.31" fill="#e8f4ed"/>
<rect x="444.47" y="496.96" width="57.23" height="4.31" fill="#58a1d5"/>
<rect x="330.00" y="501.27" width="57.23" height="4.31" fill="#f2261c"/>
<rect x="387.23" y="501.27" width="57.23" height="4.31" fill="#f1f8e1"/>
<rect x="444.47" y="501.27" width="57.23" height="4.31" fill="#5ea5d7"/>
<rect x="330.00" y="505.58" width="57.23" height="4.31" fill="#f54328"/>
<rect x="387.23" y="505.58" width="57.23" height="4.31" fill="#fffab6"/>
<rect x="444.47" y="505.58" width="57.23" height="4.31" fill="#3789c9"/>
<rect x="330.00" y="509.88" width="57.23" height="4.31" fill="#f5482a"/>
<rect x="387.23" y="509.88" width="57.23" height="4.31" fill="#fff4a9"/>
<rect x="444.47" y="509.88" width="57.23" height="4.31" fill="#3789c9"/>
<rect x="330.00" y="514.19" width="57.23" height="4.31" fill="#f5482a"/>
<rect x="387.23" y="514.19" width="57.23" height="4.31" fill="#fff8b3"/>
<rect x="444.47" y="514.19" width="57.23" height="4.31" fill="#3185c7"/>
<path d="M330.00 303.10H501.70M330.00 307.41H501.70M330.00 311.72H501.70M330.00 316.02H501.70M330.00 320.33H501.70M330.00 324.64H501.70M330.00 328.95H501.70M330.00 333.26H501.70M330.00 337.56H501.70M330.00 341.87H501.70M330.00 346.18H501.70M330.00 350.49H501.70M330.00 354.80H501.70M330.00 359.10H501.70M330.00 363.41H501.70M330.00 367.72H501.70M330.00 372.03H501.70M330.00 376.34H501.70M330.00 380.64H501.70M330.00 384.95H501.70M330.00 389.26H501.70M330.00 393.57H501.70M330.00 397.88H501.70M330.00 402.18H501.70M330.00 406.49H501.70M330.00 410.80H501.70M330.00 415.11H501.70M330.00 419.42H501.70M330.00 423.72H501.70M330.00 428.03H501.70M330.00 432.34H501.70M330.00 436.65H501.70M330.00 440.96H501.70M330.00 445.26H501.70M330.00 449.57H501.70M330.00 453.88H501.70M330.00 458.19H501.70M330.00 462.50H501.70M330.00 466.80H501.70M330.00 471.11H501.70M330.00 475.42H501.70M330.00 479.73H501.70M330.00 484.04H501.70M330.00 488.34H501.70M330.00 492.65H501.70M330.00 496.96H501.70M330.00 501.27H501.70M330.00 505.58H501.70M330.00 509.88H501.70M330.00 514.19H501.70M330.00 518.50H501.70M330.00 303.10V518.50M387.23 303.10V518.50M444.47 303.10V518.50M501.70 303.10V518.50" stroke="#1e1e1e" stroke-opacity="0.6" stroke-width="0.90" fill="none"/>
<text transform="translate(415.9 290.9)" font-size="10" font-weight="bold" text-anchor="middle" fill="#000">Notch core: regional PC</text>
<text transform="translate(358.6 530.0)" font-size="10" text-anchor="middle" fill="#111" stroke="#111" stroke-width="0.2">&#8804;55</text>
<text transform="translate(415.9 530.0)" font-size="10" text-anchor="middle" fill="#111" stroke="#111" stroke-width="0.2">60-70</text>
<text transform="translate(473.1 530.0)" font-size="10" text-anchor="middle" fill="#111" stroke="#111" stroke-width="0.2">&gt;70</text>
<g font-size="10" fill="#5e5e5e"><text transform="translate(505.7 306.30) scale(0.25 0.27)">PSEN1</text><text transform="translate(505.7 310.61) scale(0.25 0.27)">CTBP2</text><text transform="translate(505.7 314.92) scale(0.25 0.27)">NCSTN</text><text transform="translate(505.7 319.23) scale(0.25 0.27)">CREBBP</text><text transform="translate(505.7 323.54) scale(0.25 0.27)">APH1A</text><text transform="translate(505.7 327.84) scale(0.25 0.27)">MAML3</text><text transform="translate(505.7 332.15) scale(0.25 0.27)">KAT2A</text><text transform="translate(505.7 336.46) scale(0.25 0.27)">MAML2</text><text transform="translate(505.7 340.77) scale(0.25 0.27)">PSEN1</text><text transform="translate(505.7 345.08) scale(0.25 0.27)">CTBP2</text><text transform="translate(505.7 349.38) scale(0.25 0.27)">NCSTN</text><text transform="translate(505.7 353.69) scale(0.25 0.27)">CREBBP</text><text transform="translate(505.7 358.00) scale(0.25 0.27)">APH1A</text><text transform="translate(505.7 362.31) scale(0.25 0.27)">MAML3</text><text transform="translate(505.7 366.62) scale(0.25 0.27)">KAT2A</text><text transform="translate(505.7 370.92) scale(0.25 0.27)">MAML2</text><text transform="translate(505.7 375.23) scale(0.25 0.27)">PSEN1</text><text transform="translate(505.7 379.54) scale(0.25 0.27)">CTBP2</text><text transform="translate(505.7 383.85) scale(0.25 0.27)">NCSTN</text><text transform="translate(505.7 388.16) scale(0.25 0.27)">CREBBP</text><text transform="translate(505.7 392.46) scale(0.25 0.27)">APH1A</text><text transform="translate(505.7 396.77) scale(0.25 0.27)">MAML3</text><text transform="translate(505.7 401.08) scale(0.25 0.27)">KAT2A</text><text transform="translate(505.7 405.39) scale(0.25 0.27)">MAML2</text><text transform="translate(505.7 409.70) scale(0.25 0.27)">PSEN1</text><text transform="translate(505.7 414.00) scale(0.25 0.27)">CTBP2</text><text transform="translate(505.7 418.31) scale(0.25 0.27)">NCSTN</text><text transform="translate(505.7 422.62) scale(0.25 0.27)">CREBBP</text><text transform="translate(505.7 426.93) scale(0.25 0.27)">APH1A</text><text transform="translate(505.7 431.24) scale(0.25 0.27)">MAML3</text><text transform="translate(505.7 435.54) scale(0.25 0.27)">KAT2A</text><text transform="translate(505.7 439.85) scale(0.25 0.27)">MAML2</text><text transform="translate(505.7 444.16) scale(0.25 0.27)">PSEN1</text><text transform="translate(505.7 448.47) scale(0.25 0.27)">CTBP2</text><text transform="translate(505.7 452.78) scale(0.25 0.27)">NCSTN</text><text transform="translate(505.7 457.08) scale(0.25 0.27)">CREBBP</text><text transform="translate(505.7 461.39) scale(0.25 0.27)">APH1A</text><text transform="translate(505.7 465.70) scale(0.25 0.27)">MAML3</text><text transform="translate(505.7 470.01) scale(0.25 0.27)">KAT2A</text><text transform="translate(505.7 474.32) scale(0.25 0.27)">MAML2</text><text transform="translate(505.7 478.62) scale(0.25 0.27)">PSEN1</text><text transform="translate(505.7 482.93) scale(0.25 0.27)">CTBP2</text><text transform="translate(505.7 487.24) scale(0.25 0.27)">NCSTN</text><text transform="translate(505.7 491.55) scale(0.25 0.27)">CREBBP</text><text transform="translate(505.7 495.86) scale(0.25 0.27)">APH1A</text><text transform="translate(505.7 500.16) scale(0.25 0.27)">MAML3</text><text transform="translate(505.7 504.47) scale(0.25 0.27)">KAT2A</text><text transform="translate(505.7 508.78) scale(0.25 0.27)">MAML2</text><text transform="translate(505.7 513.09) scale(0.25 0.27)">PSEN1</text><text transform="translate(505.7 517.40) scale(0.25 0.27)">CTBP2</text></g>
<rect x="522.9" y="303.4" width="8.5" height="124.0" fill="url(#cb)"/>
<text transform="translate(532.7 315.7) scale(0.95 1)" font-size="8.8" fill="#111" stroke="#111" stroke-width="0.2">1</text>
<text transform="translate(532.7 342.6) scale(0.95 1)" font-size="8.8" fill="#111" stroke="#111" stroke-width="0.2">0.5</text>
<text transform="translate(532.7 369.4) scale(0.95 1)" font-size="8.8" fill="#111" stroke="#111" stroke-width="0.2">0</text>
<text transform="translate(532.7 396.3) scale(0.95 1)" font-size="8.8" fill="#111" stroke="#111" stroke-width="0.2">-0.5</text>
<text transform="translate(532.7 423.1) scale(0.95 1)" font-size="8.8" fill="#111" stroke="#111" stroke-width="0.2">-1</text>
<path d="M284.60 379.85V485.87M284.60 379.85H296.20M284.60 485.87H304.40M296.20 354.56V405.15M296.20 354.56H304.80M296.20 405.15H296.50M304.80 334.94V374.18M304.80 334.94H311.90M304.80 374.18H316.80M311.90 323.70V346.18M311.90 323.70H320.90M311.90 346.18H318.30M320.90 318.45V328.95M320.90 318.45H323.30M320.90 328.95H323.80M323.30 314.41V322.49M323.30 314.41H323.87M323.30 322.49H325.30M323.87 310.64V318.18M323.87 310.64H324.43M323.87 318.18H325.30M324.43 307.41V313.87M324.43 307.41H325.00M324.43 313.87H325.30M325.00 305.25V309.56M325.00 305.25H325.30M325.00 309.56H325.30M323.80 326.79V331.10M323.80 326.79H325.30M323.80 331.10H325.30M318.30 338.64V353.72M318.30 338.64H322.90M318.30 353.72H322.90M322.90 335.41V341.87M322.90 335.41H325.30M322.90 341.87H324.00M324.00 339.72V344.03M324.00 339.72H325.30M324.00 344.03H325.30M322.90 350.49V356.95M322.90 350.49H324.00M322.90 356.95H325.30M324.00 348.33V352.64M324.00 348.33H325.30M324.00 352.64H325.30M316.80 367.72V380.64M316.80 367.72H322.90M316.80 380.64H323.50M322.90 363.41V372.03M322.90 363.41H324.30M322.90 372.03H324.30M324.30 361.26V365.57M324.30 361.26H325.30M324.30 365.57H325.30M324.30 369.87V374.18M324.30 369.87H325.30M324.30 374.18H325.30M323.50 378.49V382.80M323.50 378.49H325.30M323.50 382.80H325.30M296.50 396.26V414.03M296.50 396.26H312.30M296.50 414.03H316.80M312.30 390.34V402.18M312.30 390.34H319.10M312.30 402.18H323.60M319.10 387.11V393.57M319.10 387.11H325.30M319.10 393.57H323.50M323.50 391.41V395.72M323.50 391.41H325.30M323.50 395.72H325.30M323.60 400.03V404.34M323.60 400.03H325.30M323.60 404.34H325.30M316.80 410.80V417.26M316.80 410.80H323.60M316.80 417.26H325.30M323.60 408.65V412.95M323.60 408.65H325.30M323.60 412.95H325.30M304.40 466.70V505.04M304.40 466.70H309.50M304.40 505.04H320.20M309.50 450.99V482.42M309.50 450.99H316.80M309.50 482.42H319.10M316.80 440.01V461.96M316.80 440.01H320.60M316.80 461.96H322.10M320.60 434.76V445.26M320.60 434.76H323.00M320.60 445.26H323.60M323.00 430.72V438.80M323.00 430.72H323.67M323.00 438.80H325.30M323.67 426.96V434.49M323.67 426.96H324.33M323.67 434.49H325.30M324.33 423.72V430.19M324.33 423.72H325.00M324.33 430.19H325.30M325.00 421.57V425.88M325.00 421.57H325.30M325.00 425.88H325.30M323.60 443.11V447.42M323.60 443.11H325.30M323.60 447.42H325.30M322.10 457.11V466.80M322.10 457.11H323.60M322.10 466.80H323.80M323.60 453.88V460.34M323.60 453.88H324.50M323.60 460.34H325.30M324.50 451.73V456.03M324.50 451.73H325.30M324.50 456.03H325.30M323.80 464.65V468.96M323.80 464.65H325.30M323.80 468.96H325.30M319.10 478.65V486.19M319.10 478.65H322.20M319.10 486.19H325.30M322.20 475.42V481.88M322.20 475.42H323.80M322.20 481.88H325.30M323.80 473.27V477.57M323.80 473.27H325.30M323.80 477.57H325.30M320.20 496.96V513.12M320.20 496.96H323.10M320.20 513.12H323.70M323.10 492.65V501.27M323.10 492.65H324.30M323.10 501.27H324.30M324.30 490.50V494.81M324.30 490.50H325.30M324.30 494.81H325.30M324.30 499.11V503.42M324.30 499.11H325.30M324.30 503.42H325.30M323.70 509.88V516.35M323.70 509.88H324.50M323.70 516.35H325.30M324.50 507.73V512.04M324.50 507.73H325.30M324.50 512.04H325.30" stroke="#333" stroke-width="0.75" fill="none"/>
</svg></body></html>
